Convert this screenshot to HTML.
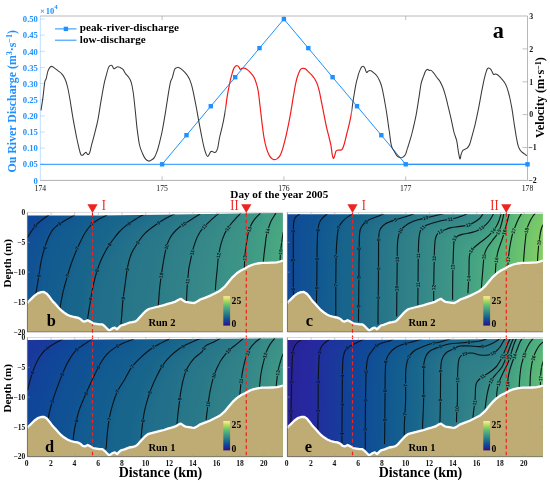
<!DOCTYPE html>
<html><head><meta charset="utf-8"><title>Figure</title>
<style>html,body{margin:0;padding:0;background:#fff}svg{display:block}</style></head>
<body>
<svg width="550" height="483" viewBox="0 0 550 483" font-family="'Liberation Serif', 'DejaVu Serif', serif">
<rect width="550" height="483" fill="#fff"/>
<defs><filter id="bl" x="-10%" y="-20%" width="120%" height="140%" color-interpolation-filters="sRGB"><feGaussianBlur stdDeviation="7"/></filter><linearGradient id="cb" x1="0" y1="1" x2="0" y2="0"><stop offset="0%" stop-color="#29186b"/><stop offset="4%" stop-color="#291d82"/><stop offset="8%" stop-color="#2a229a"/><stop offset="12%" stop-color="#212f9e"/><stop offset="16%" stop-color="#153e9b"/><stop offset="20%" stop-color="#104c97"/><stop offset="24%" stop-color="#115692"/><stop offset="28%" stop-color="#14618e"/><stop offset="32%" stop-color="#1c6a8b"/><stop offset="36%" stop-color="#257389"/><stop offset="40%" stop-color="#2c7c89"/><stop offset="44%" stop-color="#338588"/><stop offset="48%" stop-color="#388e87"/><stop offset="52%" stop-color="#3e9786"/><stop offset="56%" stop-color="#44a084"/><stop offset="60%" stop-color="#4baa80"/><stop offset="64%" stop-color="#52b37b"/><stop offset="68%" stop-color="#5fbc74"/><stop offset="72%" stop-color="#6dc46c"/><stop offset="76%" stop-color="#81cc65"/><stop offset="80%" stop-color="#96d35e"/><stop offset="84%" stop-color="#acd960"/><stop offset="88%" stop-color="#c3dd69"/><stop offset="92%" stop-color="#d9e375"/><stop offset="96%" stop-color="#ebe887"/><stop offset="100%" stop-color="#fdee99"/></linearGradient><clipPath id="ck"><rect x="0" y="0" width="225.1" height="200"/><rect x="351.6" y="0" width="300" height="200"/></clipPath><clipPath id="cr"><rect x="225.1" y="0" width="126.5" height="200"/></clipPath><clipPath id="cpb"><path d="M27.4 331.9L27.4 215.4L100 215.5L160 214.8L240 213.6L282.9 212.9L282.9 331.9Z"/></clipPath><clipPath id="cpc"><path d="M287.4 331.9L287.4 214.2L460 214.2L542.9 213.7L542.9 331.9Z"/></clipPath><clipPath id="cpd"><path d="M27.4 456.7L27.4 340L150 339.3L282.9 338.2L282.9 456.7Z"/></clipPath><clipPath id="cpe"><path d="M287.4 456.7L287.4 340L420 339.8L542.9 338.7L542.9 456.7Z"/></clipPath></defs>
<path d="M40.3 16H527.5V180.4" fill="none" stroke="#a6a6a6" stroke-width="0.8"/>
<path d="M40.3 180.4H527.5" fill="none" stroke="#9c9c9c" stroke-width="0.8"/>
<path d="M40.3 16V180.4" fill="none" stroke="#1e90ff" stroke-width="0.8" stroke-opacity="0.36"/>
<path d="M162.1 180.4v-4M162.1 16v4M283.9 180.4v-4M283.9 16v4M405.7 180.4v-4M405.7 16v4M527.5 147.5h-5M527.5 114.6h-5M527.5 81.8h-5M527.5 48.9h-5" stroke="#a6a6a6" stroke-width="0.7" fill="none"/>
<path d="M40.3 164.3h4.5M40.3 148.1h4.5M40.3 132h4.5M40.3 115.9h4.5M40.3 99.8h4.5M40.3 83.6h4.5M40.3 67.5h4.5M40.3 51.4h4.5M40.3 35.2h4.5M40.3 19.1h4.5" stroke="#1e90ff" stroke-width="0.7" stroke-opacity="0.36" fill="none"/>
<text x="37.9" y="183.5" font-size="8.6" font-weight="bold" fill="#1e90ff" text-anchor="end">0</text>
<text x="37.9" y="167.4" font-size="8.6" font-weight="bold" fill="#1e90ff" text-anchor="end">0.05</text>
<text x="37.9" y="151.2" font-size="8.6" font-weight="bold" fill="#1e90ff" text-anchor="end">0.10</text>
<text x="37.9" y="135.1" font-size="8.6" font-weight="bold" fill="#1e90ff" text-anchor="end">0.15</text>
<text x="37.9" y="119" font-size="8.6" font-weight="bold" fill="#1e90ff" text-anchor="end">0.20</text>
<text x="37.9" y="102.8" font-size="8.6" font-weight="bold" fill="#1e90ff" text-anchor="end">0.25</text>
<text x="37.9" y="86.7" font-size="8.6" font-weight="bold" fill="#1e90ff" text-anchor="end">0.30</text>
<text x="37.9" y="70.6" font-size="8.6" font-weight="bold" fill="#1e90ff" text-anchor="end">0.35</text>
<text x="37.9" y="54.5" font-size="8.6" font-weight="bold" fill="#1e90ff" text-anchor="end">0.40</text>
<text x="37.9" y="38.3" font-size="8.6" font-weight="bold" fill="#1e90ff" text-anchor="end">0.45</text>
<text x="37.9" y="22.2" font-size="8.6" font-weight="bold" fill="#1e90ff" text-anchor="end">0.50</text>
<text x="40.1" y="13.6" font-size="8.5" font-weight="bold" fill="#1e90ff">×<tspan dx="0.9">10</tspan><tspan dy="-4.2" font-size="6.8">4</tspan></text>
<text x="529.3" y="18.7" font-size="7.9" font-weight="bold" fill="#111" text-anchor="start">3</text>
<text x="529.3" y="51.6" font-size="7.9" font-weight="bold" fill="#111" text-anchor="start">2</text>
<text x="529.3" y="84.5" font-size="7.9" font-weight="bold" fill="#111" text-anchor="start">1</text>
<text x="529.3" y="117.3" font-size="7.9" font-weight="bold" fill="#111" text-anchor="start">0</text>
<text x="528.2" y="150.2" font-size="7.9" font-weight="bold" fill="#111" text-anchor="start">−1</text>
<text x="528.2" y="183.1" font-size="7.9" font-weight="bold" fill="#111" text-anchor="start">−2</text>
<text x="40.3" y="190.9" font-size="7.7" fill="#111" text-anchor="middle">174</text>
<text x="162.1" y="190.9" font-size="7.7" fill="#111" text-anchor="middle">175</text>
<text x="283.9" y="190.9" font-size="7.7" fill="#111" text-anchor="middle">176</text>
<text x="405.7" y="190.9" font-size="7.7" fill="#111" text-anchor="middle">177</text>
<text x="527.5" y="190.9" font-size="7.7" fill="#111" text-anchor="middle">178</text>
<text x="279.3" y="198.2" font-size="11.2" font-weight="bold" fill="#000" text-anchor="middle">Day of the year 2005</text>
<text transform="translate(15.6 101.3) rotate(-90)" font-size="11.85" font-weight="bold" fill="#1e90ff" text-anchor="middle">Ou River Discharge (m<tspan dy="-3.4" font-size="8">3</tspan><tspan dy="3.4">·s</tspan><tspan dy="-3.4" font-size="8">−1</tspan><tspan dy="3.4">)</tspan></text>
<text transform="translate(544.4 97.5) rotate(-90)" font-size="12.3" font-weight="bold" fill="#000" text-anchor="middle">Velocity (m·s<tspan dy="-3.4" font-size="8">−1</tspan><tspan dy="3.4">)</tspan></text>
<text x="498.3" y="38.3" font-size="22.3" font-weight="bold" fill="#000" text-anchor="middle">a</text>
<path d="M40.3 164.3H527.5" stroke="#1e90ff" stroke-width="1" fill="none"/>
<path d="M162.1 164.3L186.5 135.2L210.8 106.2L235.2 77.2L259.5 48.1L283.9 19.1L308.3 48.1L332.6 77.2L357 106.2L381.3 135.2L405.7 164.3L527.5 164.3" stroke="#1e90ff" stroke-width="1" fill="none"/>
<rect x="159.9" y="162.1" width="4.4" height="4.4" fill="#1e90ff"/>
<rect x="184.3" y="133" width="4.4" height="4.4" fill="#1e90ff"/>
<rect x="208.6" y="104" width="4.4" height="4.4" fill="#1e90ff"/>
<rect x="233" y="75" width="4.4" height="4.4" fill="#1e90ff"/>
<rect x="257.3" y="45.9" width="4.4" height="4.4" fill="#1e90ff"/>
<rect x="281.7" y="16.9" width="4.4" height="4.4" fill="#1e90ff"/>
<rect x="306.1" y="45.9" width="4.4" height="4.4" fill="#1e90ff"/>
<rect x="330.4" y="75" width="4.4" height="4.4" fill="#1e90ff"/>
<rect x="354.8" y="104" width="4.4" height="4.4" fill="#1e90ff"/>
<rect x="379.1" y="133" width="4.4" height="4.4" fill="#1e90ff"/>
<rect x="403.5" y="162.1" width="4.4" height="4.4" fill="#1e90ff"/>
<rect x="525.3" y="162.1" width="4.4" height="4.4" fill="#1e90ff"/>
<path d="M55 28.9H76.5M55 40.2H76.5" stroke="#1e90ff" stroke-width="1" fill="none"/>
<rect x="63.7" y="26.7" width="4.4" height="4.4" fill="#1e90ff"/>
<text x="79.8" y="30.7" font-size="11.15" font-weight="bold" fill="#000">peak-river-discharge</text>
<text x="79.8" y="42.9" font-size="11.1" font-weight="bold" fill="#000">low-discharge</text>
<path d="M41 110.4C41.3 108.2 42.3 101.9 43 97.2C43.6 92.5 44.2 85.4 44.7 82.3C45.2 79.2 45.7 80.5 46.2 78.6C46.7 76.7 47.3 73 47.9 71.1C48.6 69.3 49.2 68.2 49.9 67.4C50.6 66.6 51.5 66.3 52.2 66.4C52.9 66.5 53.2 67.2 54.2 67.9C55.1 68.6 56.6 69.7 57.9 70.6C59.1 71.6 60.5 72.3 61.6 73.6C62.8 74.9 63.9 76.5 64.8 78.6C65.8 80.7 66.5 82.7 67.3 86C68.2 89.4 68.9 93.3 69.8 98.5C70.7 103.6 71.7 110.7 72.8 117.1C73.9 123.5 75.5 131.8 76.5 137C77.6 142.2 78.3 145.3 79 148.2C79.7 151.1 80.1 153.2 80.8 154.4C81.4 155.6 82.1 155.4 82.7 155.2C83.4 154.9 84.2 153.6 84.7 153.2C85.3 152.7 85.7 152.2 86.2 152.4C86.7 152.6 87.2 154.3 87.7 154.4C88.2 154.5 88.8 154.6 89.5 153.2C90.1 151.7 90.6 149 91.4 145.7C92.3 142.4 93.6 137.4 94.7 133.3C95.7 129.1 96.7 125.8 97.7 120.8C98.7 115.9 99.6 109.4 100.6 103.4C101.7 97.4 102.9 89.6 103.9 84.8C104.8 80 105.6 77.8 106.4 74.9C107.1 72 107.9 69 108.6 67.4C109.3 65.8 110 65.7 110.6 65.4C111.2 65.1 111.5 65.1 112.1 65.7C112.6 66.2 113.2 68.3 113.8 68.6C114.4 69 114.9 68.2 115.5 67.9C116.2 67.6 116.8 66.7 117.5 66.7C118.3 66.6 119.1 66.9 120 67.4C120.9 67.9 122.1 68.4 123 69.4C123.9 70.4 124.5 72.3 125.5 73.6C126.5 74.9 127.8 75.9 128.7 77.3C129.7 78.8 130.5 79.8 131.2 82.3C132 84.8 132.6 88.1 133.2 92.3C133.8 96.4 134.3 101.4 134.9 107.2C135.6 113 136.2 120.8 136.9 127.1C137.7 133.3 138.5 140.1 139.4 144.5C140.3 148.8 141.4 150.8 142.4 153.2C143.4 155.6 144.3 157.5 145.4 158.9C146.4 160.2 147.7 160.9 148.6 161.1C149.6 161.3 150.1 160.7 151.1 160.1C152.1 159.5 153.3 159.2 154.3 157.6C155.4 156.1 156.4 153.5 157.3 150.7C158.3 147.9 159.1 144.3 160 140.7C160.9 137.2 161.6 134.3 162.5 129.5C163.4 124.8 164.5 117.9 165.5 112.1C166.4 106.3 167.4 99.7 168.2 94.7C169 89.8 169.7 85.2 170.4 82.3C171.1 79.4 171.8 79.4 172.4 77.3C173.1 75.3 173.8 71.5 174.4 69.9C175.1 68.3 175.7 68.3 176.4 67.9C177.1 67.5 177.9 67.2 178.6 67.4C179.4 67.6 180.1 68.1 181.1 68.9C182.2 69.7 183.7 71.2 184.9 72.4C186 73.6 186.9 74.6 187.8 76.1C188.8 77.5 189.5 78.8 190.3 81.1C191.2 83.3 192 86.2 192.8 89.8C193.6 93.3 194.3 97.2 195.3 102.2C196.3 107.2 197.5 113.8 198.5 119.6C199.6 125.4 200.8 132.2 201.8 137C202.7 141.8 203.5 145.3 204.2 148.2C205 151.1 205.6 153 206.2 154.4C206.8 155.8 207.2 156.4 207.7 156.4C208.2 156.4 208.8 155.1 209.2 154.4C209.7 153.7 210 152.4 210.5 151.9C211 151.4 211.6 151.3 212.2 151.4C212.8 151.5 213.6 152.3 214.2 152.4C214.8 152.5 215.4 152.6 215.9 151.9C216.5 151.2 217 150.7 217.7 148.2C218.3 145.7 218.9 140.5 219.7 137C220.4 133.5 221.3 130.8 222.1 127.1C223 123.3 223.8 119.6 224.6 114.6C225.5 109.7 226.3 102.4 227.1 97.2C227.9 92.1 228.8 87.5 229.6 83.6C230.4 79.6 231.3 76.2 232.1 73.6C232.8 71 233.4 69.2 234.1 67.9C234.7 66.6 235.2 66.3 235.8 65.9C236.4 65.5 237 65.4 237.6 65.7C238.1 65.9 238.6 66.8 239.1 67.4C239.5 68 239.8 69.2 240.3 69.4C240.8 69.6 241.3 68.6 242 68.4C242.7 68.2 243.6 67.9 244.5 68.2C245.4 68.4 246.5 69.1 247.5 69.9C248.5 70.7 249.7 71.6 250.7 72.9C251.8 74.1 253 75.6 254 77.3C254.9 79.1 255.7 81.3 256.4 83.6C257.2 85.8 257.6 87.5 258.2 91C258.8 94.5 259.3 99.5 259.9 104.7C260.6 109.9 261.2 116.7 261.9 122.1C262.6 127.5 263.2 132.7 263.9 137C264.6 141.3 265.5 145.1 266.4 148.2C267.3 151.3 268.4 153.9 269.4 155.6C270.4 157.4 271.4 158.2 272.4 158.9C273.3 159.5 274 159.7 274.8 159.6C275.7 159.6 276.5 159.3 277.3 158.6C278.2 158 279.1 157.2 280 155.6C280.9 154.1 281.6 152.3 282.5 149.4C283.4 146.5 284.4 142.6 285.5 138.2C286.5 133.9 287.7 128.1 288.7 123.3C289.7 118.6 290.4 114.4 291.2 109.7C292 104.9 292.8 99.5 293.7 94.7C294.5 90 295.3 84.6 296.2 81.1C297 77.5 297.9 75.6 298.6 73.6C299.4 71.7 299.9 70.3 300.6 69.4C301.3 68.5 302.2 68.5 302.9 68.4C303.6 68.3 304.1 68.3 304.9 68.6C305.6 69 306.4 69.8 307.3 70.6C308.3 71.5 309.3 72.5 310.3 73.6C311.4 74.7 312.5 75.9 313.6 77.3C314.6 78.8 315.6 80.2 316.5 82.3C317.5 84.4 318.3 86.9 319 89.8C319.8 92.7 320.3 96 321 99.7C321.8 103.4 322.6 107.6 323.5 112.1C324.4 116.7 325.6 122.9 326.5 127.1C327.4 131.2 328.2 133.9 329 137C329.7 140.1 330.4 142.8 331 145.7C331.5 148.6 331.8 152.3 332.2 154.4C332.6 156.5 333 158.2 333.4 158.4C333.9 158.6 334.3 156.8 334.7 155.6C335.1 154.5 335.4 152.3 335.9 151.4C336.4 150.5 337 150.4 337.7 150.2C338.3 150 338.9 150.3 339.7 150.2C340.4 150 341.4 150.4 342.1 149.4C342.9 148.5 343.4 146.9 344.1 144.5C344.9 142 345.8 137.8 346.6 134.5C347.4 131.2 348.4 127.8 349.1 124.6C349.8 121.3 350.4 119.3 351.1 115.1C351.8 111 352.5 104.8 353.3 99.7C354.1 94.7 355 88.9 355.8 84.8C356.6 80.7 357.6 77.4 358.3 74.9C359 72.3 359.7 70.8 360.3 69.4C360.9 68 361.5 67.1 362 66.7C362.6 66.2 363 66.1 363.5 66.4C364 66.7 364.5 67.6 365 68.6C365.5 69.6 366 72 366.5 72.4C367 72.8 367.6 71.4 368.2 71.1C368.9 70.8 369.4 70.4 370.2 70.6C371.1 70.8 372.2 71.6 373.2 72.4C374.2 73.2 375.4 74 376.4 75.3C377.5 76.7 378.5 78.3 379.4 80.3C380.3 82.3 381.1 84.1 381.9 87.3C382.7 90.5 383.6 95.2 384.4 99.7C385.2 104.3 386.1 109.2 386.9 114.6C387.7 120 388.6 126.9 389.4 132C390.1 137.2 390.6 142.6 391.4 145.7C392.1 148.8 392.9 149 393.9 150.7C394.8 152.3 395.8 154.5 396.8 155.6C397.8 156.8 398.9 157.3 399.8 157.6C400.8 157.9 401.5 157.9 402.5 157.4C403.4 156.8 404.6 155.9 405.5 154.4C406.3 152.9 406.7 150.5 407.5 148.2C408.2 145.9 409 143.8 409.9 140.7C410.9 137.6 411.9 133.9 412.9 129.5C414 125.2 415.2 119.6 416.2 114.6C417.1 109.7 417.8 104.9 418.6 99.7C419.5 94.5 420.3 87.5 421.1 83.6C422 79.6 422.9 78.2 423.6 76.1C424.4 74 425 72.2 425.6 71.1C426.2 70 426.7 69.5 427.3 69.4C428 69.3 428.7 70.2 429.3 70.4C430 70.5 430.4 70 431.1 70.4C431.8 70.8 432.6 71.7 433.6 72.9C434.5 74 435.8 76 436.8 77.3C437.8 78.7 438.8 79.4 439.8 81.1C440.8 82.7 441.8 85 442.8 87.3C443.7 89.6 444.4 91.8 445.2 94.7C446.1 97.6 446.8 100.8 447.7 104.7C448.7 108.6 449.9 113.8 451 118.4C452 122.9 453 128.3 453.9 132C454.9 135.8 455.9 137.4 456.7 140.7C457.4 144 457.9 148.9 458.4 151.9C459 154.9 459.5 158.5 459.9 158.9C460.4 159.3 460.7 155.8 461.1 154.4C461.6 153 462.1 151.5 462.6 150.7C463.2 149.8 463.9 149.8 464.6 149.4C465.4 149 466.3 149 467.1 148.2C467.9 147.4 468.8 146.5 469.6 144.5C470.4 142.4 471.2 139.1 472.1 135.8C473 132.4 474 128.9 475.1 124.6C476.1 120.2 477.2 115 478.3 109.7C479.4 104.3 480.6 97.2 481.5 92.3C482.5 87.3 483.3 83.1 484 79.8C484.8 76.5 485.4 74.2 486 72.4C486.6 70.5 486.9 69.3 487.5 68.6C488.1 67.9 488.8 67.9 489.5 68.2C490.2 68.4 490.8 69.3 491.5 70.4C492.1 71.4 492.8 73.7 493.5 74.4C494.2 75 494.9 73.9 495.7 74.1C496.5 74.3 497.2 74.6 498.2 75.3C499.1 76.1 500.4 77.4 501.4 78.6C502.5 79.8 503.5 80.9 504.4 82.3C505.3 83.8 506.1 85 506.9 87.3C507.7 89.6 508.5 92.5 509.4 96C510.2 99.5 511 103.6 511.9 108.4C512.7 113.2 513.6 119.8 514.3 124.6C515.1 129.3 515.7 133.5 516.3 137C517 140.5 517.4 143.4 518.1 145.7C518.8 148 519.5 149.3 520.6 150.7C521.6 152 523.3 153.1 524.3 153.9C525.3 154.7 526.4 155.3 526.8 155.6" fill="none" stroke="#383838" stroke-width="1.05" stroke-linejoin="round" clip-path="url(#ck)"/>
<path d="M41 110.4C41.3 108.2 42.3 101.9 43 97.2C43.6 92.5 44.2 85.4 44.7 82.3C45.2 79.2 45.7 80.5 46.2 78.6C46.7 76.7 47.3 73 47.9 71.1C48.6 69.3 49.2 68.2 49.9 67.4C50.6 66.6 51.5 66.3 52.2 66.4C52.9 66.5 53.2 67.2 54.2 67.9C55.1 68.6 56.6 69.7 57.9 70.6C59.1 71.6 60.5 72.3 61.6 73.6C62.8 74.9 63.9 76.5 64.8 78.6C65.8 80.7 66.5 82.7 67.3 86C68.2 89.4 68.9 93.3 69.8 98.5C70.7 103.6 71.7 110.7 72.8 117.1C73.9 123.5 75.5 131.8 76.5 137C77.6 142.2 78.3 145.3 79 148.2C79.7 151.1 80.1 153.2 80.8 154.4C81.4 155.6 82.1 155.4 82.7 155.2C83.4 154.9 84.2 153.6 84.7 153.2C85.3 152.7 85.7 152.2 86.2 152.4C86.7 152.6 87.2 154.3 87.7 154.4C88.2 154.5 88.8 154.6 89.5 153.2C90.1 151.7 90.6 149 91.4 145.7C92.3 142.4 93.6 137.4 94.7 133.3C95.7 129.1 96.7 125.8 97.7 120.8C98.7 115.9 99.6 109.4 100.6 103.4C101.7 97.4 102.9 89.6 103.9 84.8C104.8 80 105.6 77.8 106.4 74.9C107.1 72 107.9 69 108.6 67.4C109.3 65.8 110 65.7 110.6 65.4C111.2 65.1 111.5 65.1 112.1 65.7C112.6 66.2 113.2 68.3 113.8 68.6C114.4 69 114.9 68.2 115.5 67.9C116.2 67.6 116.8 66.7 117.5 66.7C118.3 66.6 119.1 66.9 120 67.4C120.9 67.9 122.1 68.4 123 69.4C123.9 70.4 124.5 72.3 125.5 73.6C126.5 74.9 127.8 75.9 128.7 77.3C129.7 78.8 130.5 79.8 131.2 82.3C132 84.8 132.6 88.1 133.2 92.3C133.8 96.4 134.3 101.4 134.9 107.2C135.6 113 136.2 120.8 136.9 127.1C137.7 133.3 138.5 140.1 139.4 144.5C140.3 148.8 141.4 150.8 142.4 153.2C143.4 155.6 144.3 157.5 145.4 158.9C146.4 160.2 147.7 160.9 148.6 161.1C149.6 161.3 150.1 160.7 151.1 160.1C152.1 159.5 153.3 159.2 154.3 157.6C155.4 156.1 156.4 153.5 157.3 150.7C158.3 147.9 159.1 144.3 160 140.7C160.9 137.2 161.6 134.3 162.5 129.5C163.4 124.8 164.5 117.9 165.5 112.1C166.4 106.3 167.4 99.7 168.2 94.7C169 89.8 169.7 85.2 170.4 82.3C171.1 79.4 171.8 79.4 172.4 77.3C173.1 75.3 173.8 71.5 174.4 69.9C175.1 68.3 175.7 68.3 176.4 67.9C177.1 67.5 177.9 67.2 178.6 67.4C179.4 67.6 180.1 68.1 181.1 68.9C182.2 69.7 183.7 71.2 184.9 72.4C186 73.6 186.9 74.6 187.8 76.1C188.8 77.5 189.5 78.8 190.3 81.1C191.2 83.3 192 86.2 192.8 89.8C193.6 93.3 194.3 97.2 195.3 102.2C196.3 107.2 197.5 113.8 198.5 119.6C199.6 125.4 200.8 132.2 201.8 137C202.7 141.8 203.5 145.3 204.2 148.2C205 151.1 205.6 153 206.2 154.4C206.8 155.8 207.2 156.4 207.7 156.4C208.2 156.4 208.8 155.1 209.2 154.4C209.7 153.7 210 152.4 210.5 151.9C211 151.4 211.6 151.3 212.2 151.4C212.8 151.5 213.6 152.3 214.2 152.4C214.8 152.5 215.4 152.6 215.9 151.9C216.5 151.2 217 150.7 217.7 148.2C218.3 145.7 218.9 140.5 219.7 137C220.4 133.5 221.3 130.8 222.1 127.1C223 123.3 223.8 119.6 224.6 114.6C225.5 109.7 226.3 102.4 227.1 97.2C227.9 92.1 228.8 87.5 229.6 83.6C230.4 79.6 231.3 76.2 232.1 73.6C232.8 71 233.4 69.2 234.1 67.9C234.7 66.6 235.2 66.3 235.8 65.9C236.4 65.5 237 65.4 237.6 65.7C238.1 65.9 238.6 66.8 239.1 67.4C239.5 68 239.8 69.2 240.3 69.4C240.8 69.6 241.3 68.6 242 68.4C242.7 68.2 243.6 67.9 244.5 68.2C245.4 68.4 246.5 69.1 247.5 69.9C248.5 70.7 249.7 71.6 250.7 72.9C251.8 74.1 253 75.6 254 77.3C254.9 79.1 255.7 81.3 256.4 83.6C257.2 85.8 257.6 87.5 258.2 91C258.8 94.5 259.3 99.5 259.9 104.7C260.6 109.9 261.2 116.7 261.9 122.1C262.6 127.5 263.2 132.7 263.9 137C264.6 141.3 265.5 145.1 266.4 148.2C267.3 151.3 268.4 153.9 269.4 155.6C270.4 157.4 271.4 158.2 272.4 158.9C273.3 159.5 274 159.7 274.8 159.6C275.7 159.6 276.5 159.3 277.3 158.6C278.2 158 279.1 157.2 280 155.6C280.9 154.1 281.6 152.3 282.5 149.4C283.4 146.5 284.4 142.6 285.5 138.2C286.5 133.9 287.7 128.1 288.7 123.3C289.7 118.6 290.4 114.4 291.2 109.7C292 104.9 292.8 99.5 293.7 94.7C294.5 90 295.3 84.6 296.2 81.1C297 77.5 297.9 75.6 298.6 73.6C299.4 71.7 299.9 70.3 300.6 69.4C301.3 68.5 302.2 68.5 302.9 68.4C303.6 68.3 304.1 68.3 304.9 68.6C305.6 69 306.4 69.8 307.3 70.6C308.3 71.5 309.3 72.5 310.3 73.6C311.4 74.7 312.5 75.9 313.6 77.3C314.6 78.8 315.6 80.2 316.5 82.3C317.5 84.4 318.3 86.9 319 89.8C319.8 92.7 320.3 96 321 99.7C321.8 103.4 322.6 107.6 323.5 112.1C324.4 116.7 325.6 122.9 326.5 127.1C327.4 131.2 328.2 133.9 329 137C329.7 140.1 330.4 142.8 331 145.7C331.5 148.6 331.8 152.3 332.2 154.4C332.6 156.5 333 158.2 333.4 158.4C333.9 158.6 334.3 156.8 334.7 155.6C335.1 154.5 335.4 152.3 335.9 151.4C336.4 150.5 337 150.4 337.7 150.2C338.3 150 338.9 150.3 339.7 150.2C340.4 150 341.4 150.4 342.1 149.4C342.9 148.5 343.4 146.9 344.1 144.5C344.9 142 345.8 137.8 346.6 134.5C347.4 131.2 348.4 127.8 349.1 124.6C349.8 121.3 350.4 119.3 351.1 115.1C351.8 111 352.5 104.8 353.3 99.7C354.1 94.7 355 88.9 355.8 84.8C356.6 80.7 357.6 77.4 358.3 74.9C359 72.3 359.7 70.8 360.3 69.4C360.9 68 361.5 67.1 362 66.7C362.6 66.2 363 66.1 363.5 66.4C364 66.7 364.5 67.6 365 68.6C365.5 69.6 366 72 366.5 72.4C367 72.8 367.6 71.4 368.2 71.1C368.9 70.8 369.4 70.4 370.2 70.6C371.1 70.8 372.2 71.6 373.2 72.4C374.2 73.2 375.4 74 376.4 75.3C377.5 76.7 378.5 78.3 379.4 80.3C380.3 82.3 381.1 84.1 381.9 87.3C382.7 90.5 383.6 95.2 384.4 99.7C385.2 104.3 386.1 109.2 386.9 114.6C387.7 120 388.6 126.9 389.4 132C390.1 137.2 390.6 142.6 391.4 145.7C392.1 148.8 392.9 149 393.9 150.7C394.8 152.3 395.8 154.5 396.8 155.6C397.8 156.8 398.9 157.3 399.8 157.6C400.8 157.9 401.5 157.9 402.5 157.4C403.4 156.8 404.6 155.9 405.5 154.4C406.3 152.9 406.7 150.5 407.5 148.2C408.2 145.9 409 143.8 409.9 140.7C410.9 137.6 411.9 133.9 412.9 129.5C414 125.2 415.2 119.6 416.2 114.6C417.1 109.7 417.8 104.9 418.6 99.7C419.5 94.5 420.3 87.5 421.1 83.6C422 79.6 422.9 78.2 423.6 76.1C424.4 74 425 72.2 425.6 71.1C426.2 70 426.7 69.5 427.3 69.4C428 69.3 428.7 70.2 429.3 70.4C430 70.5 430.4 70 431.1 70.4C431.8 70.8 432.6 71.7 433.6 72.9C434.5 74 435.8 76 436.8 77.3C437.8 78.7 438.8 79.4 439.8 81.1C440.8 82.7 441.8 85 442.8 87.3C443.7 89.6 444.4 91.8 445.2 94.7C446.1 97.6 446.8 100.8 447.7 104.7C448.7 108.6 449.9 113.8 451 118.4C452 122.9 453 128.3 453.9 132C454.9 135.8 455.9 137.4 456.7 140.7C457.4 144 457.9 148.9 458.4 151.9C459 154.9 459.5 158.5 459.9 158.9C460.4 159.3 460.7 155.8 461.1 154.4C461.6 153 462.1 151.5 462.6 150.7C463.2 149.8 463.9 149.8 464.6 149.4C465.4 149 466.3 149 467.1 148.2C467.9 147.4 468.8 146.5 469.6 144.5C470.4 142.4 471.2 139.1 472.1 135.8C473 132.4 474 128.9 475.1 124.6C476.1 120.2 477.2 115 478.3 109.7C479.4 104.3 480.6 97.2 481.5 92.3C482.5 87.3 483.3 83.1 484 79.8C484.8 76.5 485.4 74.2 486 72.4C486.6 70.5 486.9 69.3 487.5 68.6C488.1 67.9 488.8 67.9 489.5 68.2C490.2 68.4 490.8 69.3 491.5 70.4C492.1 71.4 492.8 73.7 493.5 74.4C494.2 75 494.9 73.9 495.7 74.1C496.5 74.3 497.2 74.6 498.2 75.3C499.1 76.1 500.4 77.4 501.4 78.6C502.5 79.8 503.5 80.9 504.4 82.3C505.3 83.8 506.1 85 506.9 87.3C507.7 89.6 508.5 92.5 509.4 96C510.2 99.5 511 103.6 511.9 108.4C512.7 113.2 513.6 119.8 514.3 124.6C515.1 129.3 515.7 133.5 516.3 137C517 140.5 517.4 143.4 518.1 145.7C518.8 148 519.5 149.3 520.6 150.7C521.6 152 523.3 153.1 524.3 153.9C525.3 154.7 526.4 155.3 526.8 155.6" fill="none" stroke="#f21d1d" stroke-width="1.2" stroke-linejoin="round" clip-path="url(#cr)"/>
<g clip-path="url(#cpb)">
<g filter="url(#bl)">
<rect x="-12.6" y="172.4" width="335.5" height="199.5" fill="#104699"/>
<path d="M60.9 172.4L51.2 213.6C50.1 214.3 47.1 216 44.7 217.8C42.3 219.5 39.1 222.1 36.9 224.2C34.8 226.4 33.3 228.5 31.8 230.7C30.2 232.9 28.3 236.5 27.6 237.7L-12.6 257.7L-12.6 371.9L322.9 371.9L322.9 172.4Z" fill="#105194"/>
<path d="M94.5 172.4L77 213.6C75.1 214.7 68.9 218.3 65.4 220.3C62 222.4 58.7 224.1 56.4 226.1C54 228 52.9 229.1 51.2 232C49.4 234.9 47.6 239.1 46 243.6C44.4 248.2 42.8 254 41.6 259.2C40.4 264.3 39.8 270 39 274.7C38.2 279.4 37.5 284.3 36.9 287.6C36.4 291 35.9 293.7 35.6 294.9L33.6 371.9L322.9 371.9L322.9 172.4Z" fill="#125c90"/>
<path d="M124.9 172.4L109.4 213.6C107.7 214.5 102 217.3 99 219.1C96.1 220.8 94.2 221.9 91.8 224.2C89.4 226.6 87.1 229.6 84.8 233.3C82.6 237 80.5 241.5 78.3 246.2C76.2 251 73.8 256.4 71.9 261.8C69.9 267.2 68.2 273.4 66.7 278.6C65.2 283.8 64 287.6 62.8 292.8C61.7 298 60.2 306.8 59.7 309.6L57.7 371.9L322.9 371.9L322.9 172.4Z" fill="#18658c"/>
<path d="M161.8 172.4L146.2 213.1C144.5 214.1 139.3 216.9 135.9 219.1C132.4 221.2 128.3 223.9 125.5 226.1C122.7 228.2 121 229.9 119.1 232C117.1 234.1 115.9 235.7 113.9 238.5C111.8 241.3 109.1 244.9 106.8 248.8C104.6 252.7 102.3 257 100.3 261.8C98.4 266.5 96.6 272.1 95.2 277.3C93.7 282.5 92.8 287.6 91.8 292.8C90.8 298 90 303.8 89.2 308.3C88.5 312.9 87.7 318 87.4 320L85.4 371.9L322.9 371.9L322.9 172.4Z" fill="#216f8a"/>
<path d="M189.6 172.4L176 213.1C174.5 213.9 170.2 215.9 166.9 217.8C163.7 219.6 160.2 221.6 156.6 224.2C152.9 226.8 148.2 230.1 144.9 233.3C141.7 236.5 139.5 240.2 137.2 243.6C134.9 247.1 132.8 250.1 131.2 254C129.6 257.9 128.6 261.8 127.6 266.9C126.6 272.1 125.8 279.4 125 285.1C124.2 290.7 123.5 295.4 122.9 300.6C122.4 305.8 122 312 121.7 316.1C121.3 320.2 121 323.7 120.9 325.2L118.9 371.9L322.9 371.9L322.9 172.4Z" fill="#297889"/>
<path d="M216.1 172.4L200.6 213.6C198.9 214.7 193.7 218.2 190.2 220.3C186.8 222.5 182.9 224.4 179.9 226.8C176.9 229.2 174.2 231.8 172.1 234.6C170 237.4 168.7 240 167.4 243.6C166.2 247.3 165.3 251.8 164.3 256.6C163.4 261.3 162.5 266.9 161.8 272.1C161 277.3 160.2 282.9 159.7 287.6C159.2 292.4 158.9 297.3 158.7 300.6C158.4 303.8 158.2 306 158.1 307.1L156.1 371.9L322.9 371.9L322.9 172.4Z" fill="#2f8088"/>
<path d="M231.4 172.4L219 213.1C217.6 214.3 213.4 217.8 210.7 220.3C208 222.9 205.1 225.5 202.9 228.1C200.8 230.7 199.3 232.9 197.8 235.9C196.2 238.9 195 242.8 193.9 246.2C192.8 249.7 192.1 252.9 191.3 256.6C190.5 260.2 189.5 265.2 188.9 268.2C188.4 271.2 188.5 271.5 188.2 274.7C187.9 277.9 187.4 283.8 187.1 287.6C186.9 291.5 186.7 295.7 186.6 298C186.5 300.2 186.4 300.6 186.3 301.1L184.3 371.9L322.9 371.9L322.9 172.4Z" fill="#368988"/>
<path d="M251.4 172.4L241 213.1C239.8 214.3 236 218.1 234 220.3C232 222.6 230.3 224.7 228.8 226.8C227.3 229 226.2 230.5 224.9 233.3C223.6 236.1 222.1 239.8 221.1 243.6C220 247.5 219.1 252.3 218.5 256.6C217.8 260.9 217.6 265.2 217.2 269.5C216.7 273.8 216.2 279 215.9 282.5C215.6 285.9 215.4 288.9 215.4 290.2L213.4 371.9L322.9 371.9L322.9 172.4Z" fill="#3b9286"/>
<path d="M268.9 172.4L260.4 213.1C259.4 214.1 256.3 217 254.7 219.1C253.1 221.1 251.9 223.2 250.8 225.5C249.7 227.9 249 230.3 248.2 233.3C247.5 236.3 246.9 240.2 246.4 243.6C245.9 247.1 245.4 251 245.1 254C244.8 257 244.7 259.4 244.6 261.8C244.5 264.1 244.4 267.2 244.3 268.2L242.3 371.9L322.9 371.9L322.9 172.4Z" fill="#409c85"/>
<path d="M282.5 172.4L275.9 213.1C275.2 214.3 272.7 218.1 271.5 220.3C270.4 222.6 269.8 224.2 268.9 226.8C268.1 229.4 267 232.6 266.4 235.9C265.7 239.1 265.5 242.8 265.1 246.2C264.6 249.7 264.1 253.8 263.8 256.6C263.5 259.4 263.3 262 263.2 263.1L261.2 371.9L322.9 371.9L322.9 172.4Z" fill="#47a582"/>
<path d="M322.9 226L283.2 232C283 233.5 282.3 237.8 281.9 241.1C281.4 244.3 280.9 248.2 280.6 251.4C280.3 254.6 280.1 259 280.1 260.5L278.1 371.9L322.9 371.9Z" fill="#4eae7e"/>
</g>
<g fill="none" stroke="#0a1418" stroke-width="1.12" stroke-linejoin="round">
<path d="M51.2 213.6C50.1 214.3 47.1 216 44.7 217.8C42.3 219.5 39.1 222.1 36.9 224.2C34.8 226.4 33.3 228.5 31.8 230.7C30.2 232.9 28.3 236.5 27.6 237.7" stroke-dasharray="18.3 3.4 62.5"/>
<path d="M77 213.6C75.1 214.7 68.9 218.3 65.4 220.3C62 222.4 58.7 224.1 56.4 226.1C54 228 52.9 229.1 51.2 232C49.4 234.9 47.6 239.1 46 243.6C44.4 248.2 42.8 254 41.6 259.2C40.4 264.3 39.8 270 39 274.7C38.2 279.4 37.5 284.3 36.9 287.6C36.4 291 35.9 293.7 35.6 294.9" stroke-dasharray="18.3 3.4 25.6 3.4 25.6 3.4 67.5"/>
<path d="M109.4 213.6C107.7 214.5 102 217.3 99 219.1C96.1 220.8 94.2 221.9 91.8 224.2C89.4 226.6 87.1 229.6 84.8 233.3C82.6 237 80.5 241.5 78.3 246.2C76.2 251 73.8 256.4 71.9 261.8C69.9 267.2 68.2 273.4 66.7 278.6C65.2 283.8 64 287.6 62.8 292.8C61.7 298 60.2 306.8 59.7 309.6" stroke-dasharray="18.3 3.4 25.6 3.4 25.6 3.4 83.2"/>
<path d="M146.2 213.1C144.5 214.1 139.3 216.9 135.9 219.1C132.4 221.2 128.3 223.9 125.5 226.1C122.7 228.2 121 229.9 119.1 232C117.1 234.1 115.9 235.7 113.9 238.5C111.8 241.3 109.1 244.9 106.8 248.8C104.6 252.7 102.3 257 100.3 261.8C98.4 266.5 96.6 272.1 95.2 277.3C93.7 282.5 92.8 287.6 91.8 292.8C90.8 298 90 303.8 89.2 308.3C88.5 312.9 87.7 318 87.4 320" stroke-dasharray="18.3 3.4 25.6 3.4 25.6 3.4 25.6 3.4 69.6"/>
<path d="M176 213.1C174.5 213.9 170.2 215.9 166.9 217.8C163.7 219.6 160.2 221.6 156.6 224.2C152.9 226.8 148.2 230.1 144.9 233.3C141.7 236.5 139.5 240.2 137.2 243.6C134.9 247.1 132.8 250.1 131.2 254C129.6 257.9 128.6 261.8 127.6 266.9C126.6 272.1 125.8 279.4 125 285.1C124.2 290.7 123.5 295.4 122.9 300.6C122.4 305.8 122 312 121.7 316.1C121.3 320.2 121 323.7 120.9 325.2" stroke-dasharray="18.3 3.4 25.6 3.4 25.6 3.4 25.6 3.4 75.5"/>
<path d="M200.6 213.6C198.9 214.7 193.7 218.2 190.2 220.3C186.8 222.5 182.9 224.4 179.9 226.8C176.9 229.2 174.2 231.8 172.1 234.6C170 237.4 168.7 240 167.4 243.6C166.2 247.3 165.3 251.8 164.3 256.6C163.4 261.3 162.5 266.9 161.8 272.1C161 277.3 160.2 282.9 159.7 287.6C159.2 292.4 158.9 297.3 158.7 300.6C158.4 303.8 158.2 306 158.1 307.1" stroke-dasharray="17 6 23 6 23 6 79"/>
<path d="M219 213.1C217.6 214.3 213.4 217.8 210.7 220.3C208 222.9 205.1 225.5 202.9 228.1C200.8 230.7 199.3 232.9 197.8 235.9C196.2 238.9 195 242.8 193.9 246.2C192.8 249.7 192.1 252.9 191.3 256.6C190.5 260.2 189.5 265.2 188.9 268.2C188.4 271.2 188.5 271.5 188.2 274.7C187.9 277.9 187.4 283.8 187.1 287.6C186.9 291.5 186.7 295.7 186.6 298C186.5 300.2 186.4 300.6 186.3 301.1" stroke-dasharray="17 6 23 6 23 6 67"/>
<path d="M241 213.1C239.8 214.3 236 218.1 234 220.3C232 222.6 230.3 224.7 228.8 226.8C227.3 229 226.2 230.5 224.9 233.3C223.6 236.1 222.1 239.8 221.1 243.6C220 247.5 219.1 252.3 218.5 256.6C217.8 260.9 217.6 265.2 217.2 269.5C216.7 273.8 216.2 279 215.9 282.5C215.6 285.9 215.4 288.9 215.4 290.2" stroke-dasharray="17 6 23 6 82"/>
<path d="M260.4 213.1C259.4 214.1 256.3 217 254.7 219.1C253.1 221.1 251.9 223.2 250.8 225.5C249.7 227.9 249 230.3 248.2 233.3C247.5 236.3 246.9 240.2 246.4 243.6C245.9 247.1 245.4 251 245.1 254C244.8 257 244.7 259.4 244.6 261.8C244.5 264.1 244.4 267.2 244.3 268.2" stroke-dasharray="17 6 23 6 57.2"/>
<path d="M275.9 213.1C275.2 214.3 272.7 218.1 271.5 220.3C270.4 222.6 269.8 224.2 268.9 226.8C268.1 229.4 267 232.6 266.4 235.9C265.7 239.1 265.5 242.8 265.1 246.2C264.6 249.7 264.1 253.8 263.8 256.6C263.5 259.4 263.3 262 263.2 263.1" stroke-dasharray="17 6 79.2"/>
<path d="M283.2 232C283 233.5 282.3 237.8 281.9 241.1C281.4 244.3 280.9 248.2 280.6 251.4C280.3 254.6 280.1 259 280.1 260.5" stroke-dasharray="17 6 55.7"/>
</g>
<g font-family="'Liberation Sans', sans-serif" font-size="4.9" font-weight="bold" fill="#0a1418" text-anchor="middle"><text transform="translate(35.4 225.8) rotate(-49.7)" y="1.7">5</text><text transform="translate(59.8 223.7) rotate(-32.2)" y="1.7">6</text><text transform="translate(44.7 247.6) rotate(-73.1)" y="1.7">6</text><text transform="translate(38.8 275.9) rotate(-81)" y="1.7">6</text><text transform="translate(92.3 223.8) rotate(-44.6)" y="1.7">7</text><text transform="translate(77.3 248.4) rotate(-66)" y="1.7">7</text><text transform="translate(67.5 275.7) rotate(-73.7)" y="1.7">7</text><text transform="translate(129.1 223.5) rotate(-34.8)" y="1.7">8</text><text transform="translate(109.5 244.5) rotate(-56.5)" y="1.7">8</text><text transform="translate(97.1 270.7) rotate(-72.2)" y="1.7">8</text><text transform="translate(90.7 298.9) rotate(-80.5)" y="1.7">8</text><text transform="translate(158.6 222.9) rotate(-33.8)" y="1.7">9</text><text transform="translate(137.8 242.7) rotate(-56.4)" y="1.7">9</text><text transform="translate(127.2 269.3) rotate(-80.5)" y="1.7">9</text><text transform="translate(123.2 298.1) rotate(-83.6)" y="1.7">9</text><text transform="translate(183.7 224.3) rotate(-32.5)" y="1.7">10</text><text transform="translate(166.5 246.7) rotate(-75.4)" y="1.7">10</text><text transform="translate(161.3 275.2) rotate(-81.9)" y="1.7">10</text><text transform="translate(204.3 226.6) rotate(-47.7)" y="1.7">11</text><text transform="translate(192.2 252.6) rotate(-76.9)" y="1.7">11</text><text transform="translate(187.6 281.2) rotate(-85.5)" y="1.7">11</text><text transform="translate(227.9 228.2) rotate(-56.1)" y="1.7">12</text><text transform="translate(218.6 255.4) rotate(-81.3)" y="1.7">12</text><text transform="translate(249.3 229.4) rotate(-72.5)" y="1.7">13</text><text transform="translate(244.8 258) rotate(-86.5)" y="1.7">13</text><text transform="translate(267.5 231.2) rotate(-74.4)" y="1.7">14</text><text transform="translate(280.5 251.8) rotate(-85.3)" y="1.7">15</text></g>
</g>
<path d="M27.4 303L28 302.2L30.8 299.4L34.3 295.9L37.7 293.4L41.1 292.2L43.9 292L46.8 293.7L49.6 297.1L52.5 301.1L55.3 303.9L58.2 307.3L61 310.2L63.9 312.5L67.3 314.7L70.7 316.2L74.1 317L77.5 317.6L80.5 319L82.7 321.1L84.9 321.6L87.6 320.2L90.4 321.6L93.1 323.3L96.4 323.8L99.6 324.4L102.4 324.4L104.5 326L106.7 328.2L108.9 330.4L110.5 329.8L112.7 328.2L114.9 327.6L117.1 329.3L118.7 327.6L120.9 325.5L123.6 324.9L126.4 323.8L129.1 322.7L132.4 322.2L135.6 321.3L137.8 319.6L139.6 317.5L142.4 314.4L145.5 311.2L148.7 309L152.5 308L156.4 307L160.2 306.1L164 305.2L167.8 303.9L171.6 302.9L175.5 301.6L178.6 299.7L180.8 298.8L183.1 300.4L185.6 301.9L188.8 302.3L192 302.9L194.5 303L197.1 301.6L200.3 299.5L204.9 297.8L209.8 295.9L214.7 293.5L219.6 291L224.5 286.9L228.6 282L232.7 277.1L236.8 273.3L240.9 270.5L245 268.4L249.1 266.1L253.2 264.5L257.3 263.5L262.2 262.9L267.1 262.9L272 262.7L276.9 262.4L280.2 261.5L282.9 260.7L282.9 331.9L27.4 331.9Z" fill="#bfab74"/>
<g clip-path="url(#cpc)">
<g filter="url(#bl)">
<rect x="247.4" y="172.4" width="335.5" height="199.5" fill="#104699"/>
<path d="M306.7 172.4L300.1 213.6C299.3 214.2 296.7 215.9 295.6 217.2C294.6 218.6 294.2 219 293.8 221.7C293.4 224.3 293.4 226.6 293.3 233.3C293.2 240 293.3 252.7 293.3 261.8C293.3 270.8 293.3 281.7 293.3 287.6C293.4 293.6 293.5 295.8 293.6 297.5L291.6 371.9L582.9 371.9L582.9 172.4Z" fill="#105194"/>
<path d="M336.4 172.4L327.5 213.6C326.5 214.5 323 217.3 321.5 219.1C320.1 220.8 319.6 221.9 318.9 224.2C318.3 226.6 317.9 229.6 317.6 233.3C317.3 237 317.3 239.8 317.1 246.2C317 252.7 317 263.9 316.9 272.1C316.8 280.3 316.7 290.2 316.6 295.4C316.5 300.6 316.4 301.9 316.4 303.2L314.4 371.9L582.9 371.9L582.9 172.4Z" fill="#125c90"/>
<path d="M364.9 172.4L352.8 213.6C351.5 214.5 347 217.1 344.8 219.1C342.6 221 340.8 223.2 339.6 225.5C338.4 227.9 338.1 229.8 337.6 233.3C337.1 236.7 336.8 241.5 336.5 246.2C336.3 251 336.1 255.3 336 261.8C335.9 268.2 335.8 277.3 335.8 285.1C335.7 292.8 335.8 303.2 335.8 308.3C335.8 313.4 335.8 314.4 335.8 315.6L333.8 371.9L582.9 371.9L582.9 172.4Z" fill="#18658c"/>
<path d="M391 172.4L384.4 213.6C383.7 213.9 381.9 214.7 380 215.4C378.2 216.2 375.4 217.1 373.3 218C371.2 218.9 369.2 219.5 367.3 220.9C365.4 222.2 363.2 224.2 361.9 226.3C360.6 228.4 360 228.5 359.6 233.6C359.1 238.6 359.2 247.6 359.1 256.6C358.9 265.6 358.9 277.7 358.8 287.6C358.7 297.6 358.6 310.4 358.5 316.1C358.5 321.8 358.5 320.9 358.5 321.8L356.5 371.9L582.9 371.9L582.9 172.4Z" fill="#216f8a"/>
<path d="M421.1 172.4L414.5 213.6C413.8 213.9 411.9 214.6 410.1 215.2C408.3 215.8 406.2 216.4 403.6 217.2C401.1 218.1 397.6 219 394.6 220.1C391.6 221.2 387.8 222.4 385.5 223.7C383.2 225.1 382 226.2 380.9 228.1C379.7 230.1 379.2 229.8 378.8 235.4C378.4 241 378.6 253 378.5 261.8C378.5 270.5 378.4 279 378.3 287.6C378.2 296.3 378.1 307.4 378 313.5C378 319.6 378 322.6 378 324.4L376 371.9L582.9 371.9L582.9 172.4Z" fill="#297889"/>
<path d="M458.2 172.4L445.1 213.4C443.6 213.7 439.2 214.7 436.2 215.4C433.3 216.1 430.5 216.8 427.4 217.5C424.4 218.2 420.8 219 417.9 219.8C415 220.7 412.3 221.6 410.1 222.7C408 223.7 406.4 224.8 404.9 226.1C403.4 227.3 402.1 228.3 401.1 229.9C400 231.6 399.1 233.4 398.5 235.9C397.9 238.4 397.6 240.6 397.4 244.9C397.2 249.3 397.3 254.6 397.2 261.8C397.1 268.9 397 279.9 396.9 287.6C396.8 295.4 396.7 303.5 396.7 308.3C396.6 313.2 396.7 315.2 396.7 316.6L394.7 371.9L582.9 371.9L582.9 172.4Z" fill="#2f8088"/>
<path d="M479.5 172.4L469 212.8C467.8 213.3 464.2 215.1 462 216C459.8 216.9 458.3 217.4 456 218C453.7 218.6 450.7 219.1 448 219.6C445.3 220.1 443.5 220.1 440 221C436.5 221.9 430.1 223.6 426.9 225C423.8 226.4 422.5 227.6 421.2 229.4C419.9 231.2 419.6 232.6 419.2 235.9C418.7 239.1 418.6 242.3 418.4 248.8C418.2 255.3 418.2 266.9 418.1 274.7C418.1 282.5 417.9 290.4 417.9 295.4C417.8 300.4 417.9 303.4 417.9 305L415.9 371.9L582.9 371.9L582.9 172.4Z" fill="#368988"/>
<path d="M490.5 172.4L483.6 212.8C482.8 213.8 481.3 217.1 479 219C476.7 220.9 473.2 223.2 470 224.4C466.8 225.6 463.2 225.9 460 226.4C456.8 226.9 453.5 227.1 451 227.6C448.5 228.1 447.2 228.7 445.1 229.7C442.9 230.6 439.4 231.6 437.8 233.3C436.2 235 435.8 236.7 435.2 239.8C434.7 242.8 434.7 245.6 434.4 251.4C434.2 257.2 434.1 267.8 433.9 274.7C433.8 281.6 433.7 288.2 433.7 292.8C433.6 297.4 433.7 300.8 433.7 302.4L431.7 371.9L582.9 371.9L582.9 172.4Z" fill="#3b9286"/>
<path d="M498.2 172.4L494 212.8C493.5 213.7 492.3 216.2 491.2 218C490.1 219.8 489 221.6 487.2 223.4C485.4 225.2 482.7 227.5 480.2 229C477.7 230.5 475 231.5 472 232.4C469 233.3 464.7 233.6 462 234.4C459.3 235.2 457.3 236 456 237.2C454.7 238.4 454.5 237.5 454 241.6C453.5 245.7 453.3 256.2 453.1 261.8C452.9 267.3 452.9 269.5 452.8 274.7C452.7 279.9 452.6 288.6 452.6 292.8C452.5 297 452.6 298.6 452.6 299.8L450.6 371.9L582.9 371.9L582.9 172.4Z" fill="#409c85"/>
<path d="M504.7 172.4L501.4 212.8C501 214 500 217.8 499.2 220C498.4 222.2 497.7 224.1 496.4 226.2C495.1 228.3 493.3 230.6 491.6 232.6C489.9 234.6 488.1 236.2 486 238C483.9 239.8 481.3 241.5 479.2 243.2C477.1 244.9 474.9 246.6 473.4 248.2C471.9 249.8 470.9 251.3 470.2 253C469.5 254.7 469.4 254.7 469.2 258.4C469 262.1 469.1 269.4 468.9 275.2C468.7 281 468 290.3 467.9 293.3L465.9 371.9L582.9 371.9L582.9 172.4Z" fill="#47a582"/>
<path d="M506.7 172.4L504 212.8C503.7 214.2 502.9 218.4 502.2 221C501.5 223.6 500.9 226.3 500 228.6C499.1 230.9 498.1 232.7 496.8 234.8C495.5 236.9 493.5 239 492 241C490.5 243 488.8 245.1 487.6 247C486.4 248.9 485.6 250.7 485 252.6C484.4 254.5 484.2 254.6 483.8 258.4C483.4 262.2 482.8 270.1 482.4 275.2C481.9 280.3 481.5 286.6 481.3 288.9L479.3 371.9L582.9 371.9L582.9 172.4Z" fill="#4eae7e"/>
<path d="M512.1 172.4L509.4 212.8C509.1 214 508.3 217.5 507.6 220C506.9 222.5 506.1 225.3 505.4 228C504.7 230.7 504 233.3 503.2 236C502.4 238.7 501.3 241.3 500.4 244C499.5 246.7 498.5 249.3 497.8 252C497.1 254.7 496.8 257.3 496.4 260C496 262.7 495.8 265.2 495.6 268C495.4 270.8 495.3 275.5 495.2 277L493.2 371.9L582.9 371.9L582.9 172.4Z" fill="#59b778"/>
<path d="M527.4 172.4L522 212.8C521.4 213.8 519.6 216.6 518.4 219C517.2 221.4 516.1 224.2 515 227C513.9 229.8 512.8 232.8 512 236C511.2 239.2 510.6 242.7 510 246C509.4 249.3 508.9 253 508.6 256C508.3 259 508.1 262.2 508 264C507.9 265.8 508 266.5 508 267L506 371.9L582.9 371.9L582.9 172.4Z" fill="#66c070"/>
<path d="M539.5 172.4L535.6 212.8C535.2 213.3 534 214.5 533 216C532 217.5 530.6 219.8 529.6 222C528.6 224.2 527.7 226.3 527 229C526.3 231.7 526 234.5 525.6 238C525.2 241.5 524.7 246.2 524.4 250C524.1 253.8 523.7 258.7 523.6 261C523.5 263.3 523.6 263.5 523.6 264L521.6 371.9L582.9 371.9L582.9 172.4Z" fill="#76c869"/>
<path d="M582.9 217.6L544 223.6C543.7 224 542.9 224.9 542.4 226C541.9 227.1 541.5 228 541 230C540.5 232 540 235 539.6 238C539.2 241 538.7 244.5 538.4 248C538.1 251.5 537.7 256.6 537.6 259C537.5 261.4 537.6 261.8 537.6 262.4L535.6 371.9L582.9 371.9Z" fill="#8bcf62"/>
</g>
<g fill="none" stroke="#0a1418" stroke-width="1.12" stroke-linejoin="round">
<path d="M300.1 213.6C299.3 214.2 296.7 215.9 295.6 217.2C294.6 218.6 294.2 219 293.8 221.7C293.4 224.3 293.4 226.6 293.3 233.3C293.2 240 293.3 252.7 293.3 261.8C293.3 270.8 293.3 281.7 293.3 287.6C293.4 293.6 293.5 295.8 293.6 297.5" stroke-dasharray="18.3 3.4 25.6 3.4 25.6 3.4 56.7"/>
<path d="M327.5 213.6C326.5 214.5 323 217.3 321.5 219.1C320.1 220.8 319.6 221.9 318.9 224.2C318.3 226.6 317.9 229.6 317.6 233.3C317.3 237 317.3 239.8 317.1 246.2C317 252.7 317 263.9 316.9 272.1C316.8 280.3 316.7 290.2 316.6 295.4C316.5 300.6 316.4 301.9 316.4 303.2" stroke-dasharray="18.3 3.4 25.6 3.4 25.6 3.4 63.3"/>
<path d="M352.8 213.6C351.5 214.5 347 217.1 344.8 219.1C342.6 221 340.8 223.2 339.6 225.5C338.4 227.9 338.1 229.8 337.6 233.3C337.1 236.7 336.8 241.5 336.5 246.2C336.3 251 336.1 255.3 336 261.8C335.9 268.2 335.8 277.3 335.8 285.1C335.7 292.8 335.8 303.2 335.8 308.3C335.8 313.4 335.8 314.4 335.8 315.6" stroke-dasharray="18.3 3.4 25.6 3.4 25.6 3.4 78.8"/>
<path d="M384.4 213.6C383.7 213.9 381.9 214.7 380 215.4C378.2 216.2 375.4 217.1 373.3 218C371.2 218.9 369.2 219.5 367.3 220.9C365.4 222.2 363.2 224.2 361.9 226.3C360.6 228.4 360 228.5 359.6 233.6C359.1 238.6 359.2 247.6 359.1 256.6C358.9 265.6 358.9 277.7 358.8 287.6C358.7 297.6 358.6 310.4 358.5 316.1C358.5 321.8 358.5 320.9 358.5 321.8" stroke-dasharray="18.3 3.4 25.6 3.4 25.6 3.4 25.6 3.4 63.6"/>
<path d="M414.5 213.6C413.8 213.9 411.9 214.6 410.1 215.2C408.3 215.8 406.2 216.4 403.6 217.2C401.1 218.1 397.6 219 394.6 220.1C391.6 221.2 387.8 222.4 385.5 223.7C383.2 225.1 382 226.2 380.9 228.1C379.7 230.1 379.2 229.8 378.8 235.4C378.4 241 378.6 253 378.5 261.8C378.5 270.5 378.4 279 378.3 287.6C378.2 296.3 378.1 307.4 378 313.5C378 319.6 378 322.6 378 324.4" stroke-dasharray="18.3 3.4 25.6 3.4 25.6 3.4 25.6 3.4 75.2"/>
<path d="M445.1 213.4C443.6 213.7 439.2 214.7 436.2 215.4C433.3 216.1 430.5 216.8 427.4 217.5C424.4 218.2 420.8 219 417.9 219.8C415 220.7 412.3 221.6 410.1 222.7C408 223.7 406.4 224.8 404.9 226.1C403.4 227.3 402.1 228.3 401.1 229.9C400 231.6 399.1 233.4 398.5 235.9C397.9 238.4 397.6 240.6 397.4 244.9C397.2 249.3 397.3 254.6 397.2 261.8C397.1 268.9 397 279.9 396.9 287.6C396.8 295.4 396.7 303.5 396.7 308.3C396.6 313.2 396.7 315.2 396.7 316.6" stroke-dasharray="17 6 23 6 23 6 23 6 75.3"/>
<path d="M469 212.8C467.8 213.3 464.2 215.1 462 216C459.8 216.9 458.3 217.4 456 218C453.7 218.6 450.7 219.1 448 219.6C445.3 220.1 443.5 220.1 440 221C436.5 221.9 430.1 223.6 426.9 225C423.8 226.4 422.5 227.6 421.2 229.4C419.9 231.2 419.6 232.6 419.2 235.9C418.7 239.1 418.6 242.3 418.4 248.8C418.2 255.3 418.2 266.9 418.1 274.7C418.1 282.5 417.9 290.4 417.9 295.4C417.8 300.4 417.9 303.4 417.9 305" stroke-dasharray="17 6 23 6 23 6 23 6 67.3"/>
<path d="M483.6 212.8C482.8 213.8 481.3 217.1 479 219C476.7 220.9 473.2 223.2 470 224.4C466.8 225.6 463.2 225.9 460 226.4C456.8 226.9 453.5 227.1 451 227.6C448.5 228.1 447.2 228.7 445.1 229.7C442.9 230.6 439.4 231.6 437.8 233.3C436.2 235 435.8 236.7 435.2 239.8C434.7 242.8 434.7 245.6 434.4 251.4C434.2 257.2 434.1 267.8 433.9 274.7C433.8 281.6 433.7 288.2 433.7 292.8C433.6 297.4 433.7 300.8 433.7 302.4" stroke-dasharray="17 6 23 6 23 6 23 6 61.8"/>
<path d="M494 212.8C493.5 213.7 492.3 216.2 491.2 218C490.1 219.8 489 221.6 487.2 223.4C485.4 225.2 482.7 227.5 480.2 229C477.7 230.5 475 231.5 472 232.4C469 233.3 464.7 233.6 462 234.4C459.3 235.2 457.3 236 456 237.2C454.7 238.4 454.5 237.5 454 241.6C453.5 245.7 453.3 256.2 453.1 261.8C452.9 267.3 452.9 269.5 452.8 274.7C452.7 279.9 452.6 288.6 452.6 292.8C452.5 297 452.6 298.6 452.6 299.8" stroke-dasharray="17 6 23 6 23 6 79.7"/>
<path d="M501.4 212.8C501 214 500 217.8 499.2 220C498.4 222.2 497.7 224.1 496.4 226.2C495.1 228.3 493.3 230.6 491.6 232.6C489.9 234.6 488.1 236.2 486 238C483.9 239.8 481.3 241.5 479.2 243.2C477.1 244.9 474.9 246.6 473.4 248.2C471.9 249.8 470.9 251.3 470.2 253C469.5 254.7 469.4 254.7 469.2 258.4C469 262.1 469.1 269.4 468.9 275.2C468.7 281 468 290.3 467.9 293.3" stroke-dasharray="17 6 23 6 23 6 61.7"/>
<path d="M504 212.8C503.7 214.2 502.9 218.4 502.2 221C501.5 223.6 500.9 226.3 500 228.6C499.1 230.9 498.1 232.7 496.8 234.8C495.5 236.9 493.5 239 492 241C490.5 243 488.8 245.1 487.6 247C486.4 248.9 485.6 250.7 485 252.6C484.4 254.5 484.2 254.6 483.8 258.4C483.4 262.2 482.8 270.1 482.4 275.2C481.9 280.3 481.5 286.6 481.3 288.9" stroke-dasharray="17 6 23 6 79.4"/>
<path d="M509.4 212.8C509.1 214 508.3 217.5 507.6 220C506.9 222.5 506.1 225.3 505.4 228C504.7 230.7 504 233.3 503.2 236C502.4 238.7 501.3 241.3 500.4 244C499.5 246.7 498.5 249.3 497.8 252C497.1 254.7 496.8 257.3 496.4 260C496 262.7 495.8 265.2 495.6 268C495.4 270.8 495.3 275.5 495.2 277" stroke-dasharray="17 6 23 6 64.1"/>
<path d="M522 212.8C521.4 213.8 519.6 216.6 518.4 219C517.2 221.4 516.1 224.2 515 227C513.9 229.8 512.8 232.8 512 236C511.2 239.2 510.6 242.7 510 246C509.4 249.3 508.9 253 508.6 256C508.3 259 508.1 262.2 508 264C507.9 265.8 508 266.5 508 267" stroke-dasharray="17 6 23 6 54.7"/>
<path d="M535.6 212.8C535.2 213.3 534 214.5 533 216C532 217.5 530.6 219.8 529.6 222C528.6 224.2 527.7 226.3 527 229C526.3 231.7 526 234.5 525.6 238C525.2 241.5 524.7 246.2 524.4 250C524.1 253.8 523.7 258.7 523.6 261C523.5 263.3 523.6 263.5 523.6 264" stroke-dasharray="17 6 80.7"/>
<path d="M544 223.6C543.7 224 542.9 224.9 542.4 226C541.9 227.1 541.5 228 541 230C540.5 232 540 235 539.6 238C539.2 241 538.7 244.5 538.4 248C538.1 251.5 537.7 256.6 537.6 259C537.5 261.4 537.6 261.8 537.6 262.4" stroke-dasharray="17 6 66.8"/>
</g>
<g font-family="'Liberation Sans', sans-serif" font-size="4.9" font-weight="bold" fill="#0a1418" text-anchor="middle"><text transform="translate(293.3 231.1) rotate(-89.3)" y="1.7">5</text><text transform="translate(293.3 260.1) rotate(-90)" y="1.7">5</text><text transform="translate(293.3 289.1) rotate(-90.8)" y="1.7">5</text><text transform="translate(317.9 230.2) rotate(-84)" y="1.7">6</text><text transform="translate(317 259.2) rotate(-89.5)" y="1.7">6</text><text transform="translate(316.7 288.2) rotate(-89.3)" y="1.7">6</text><text transform="translate(338.9 227.3) rotate(-71.7)" y="1.7">7</text><text transform="translate(336.1 256.1) rotate(-88.6)" y="1.7">7</text><text transform="translate(335.8 285.1) rotate(-89.8)" y="1.7">7</text><text transform="translate(366.2 221.7) rotate(-39.8)" y="1.7">8</text><text transform="translate(359.1 248.5) rotate(-89.4)" y="1.7">8</text><text transform="translate(358.9 277.5) rotate(-89.6)" y="1.7">8</text><text transform="translate(358.6 306.5) rotate(-89.5)" y="1.7">8</text><text transform="translate(395.5 219.8) rotate(-18.6)" y="1.7">9</text><text transform="translate(378.6 239.5) rotate(-88.7)" y="1.7">9</text><text transform="translate(378.5 268.5) rotate(-89.4)" y="1.7">9</text><text transform="translate(378.2 297.5) rotate(-89.4)" y="1.7">9</text><text transform="translate(425.6 217.9) rotate(-13)" y="1.7">10</text><text transform="translate(400.5 230.9) rotate(-61)" y="1.7">10</text><text transform="translate(397.2 259.4) rotate(-89.5)" y="1.7">10</text><text transform="translate(396.9 288.4) rotate(-89.3)" y="1.7">10</text><text transform="translate(450.2 219.2) rotate(-10.5)" y="1.7">11</text><text transform="translate(422.7 227.7) rotate(-44.2)" y="1.7">11</text><text transform="translate(418.3 255.7) rotate(-89.4)" y="1.7">11</text><text transform="translate(418 284.7) rotate(-89.2)" y="1.7">11</text><text transform="translate(468.4 224.9) rotate(-14.5)" y="1.7">12</text><text transform="translate(440.3 231.6) rotate(-29)" y="1.7">12</text><text transform="translate(434.2 258.6) rotate(-88.7)" y="1.7">12</text><text transform="translate(433.7 287.6) rotate(-89.3)" y="1.7">12</text><text transform="translate(481.6 228.1) rotate(-33.9)" y="1.7">13</text><text transform="translate(454.8 238.2) rotate(-62.3)" y="1.7">13</text><text transform="translate(452.9 267.1) rotate(-88.9)" y="1.7">13</text><text transform="translate(493.1 230.8) rotate(-50.8)" y="1.7">14</text><text transform="translate(471.7 250.2) rotate(-56.2)" y="1.7">14</text><text transform="translate(468.7 278.7) rotate(-87)" y="1.7">14</text><text transform="translate(498.5 232) rotate(-61.6)" y="1.7">15</text><text transform="translate(484 256.7) rotate(-82.5)" y="1.7">15</text><text transform="translate(504.3 232.1) rotate(-74.7)" y="1.7">16</text><text transform="translate(496.4 260) rotate(-82.4)" y="1.7">16</text><text transform="translate(513.6 230.9) rotate(-71.3)" y="1.7">17</text><text transform="translate(508.3 259.3) rotate(-85.6)" y="1.7">17</text><text transform="translate(526.7 230.5) rotate(-79.2)" y="1.7">18</text><text transform="translate(539 242.7) rotate(-83.1)" y="1.7">19</text></g>
</g>
<path d="M287.4 303L288 302.2L290.8 299.4L294.3 295.9L297.7 293.4L301.1 292.2L303.9 292L306.8 293.7L309.6 297.1L312.5 301.1L315.3 303.9L318.2 307.3L321 310.2L323.9 312.5L327.3 314.7L330.7 316.2L334.1 317L337.5 317.6L340.5 319L342.7 321.1L344.9 321.6L347.6 320.2L350.4 321.6L353.1 323.3L356.4 323.8L359.6 324.4L362.4 324.4L364.5 326L366.7 328.2L368.9 330.4L370.5 329.8L372.7 328.2L374.9 327.6L377.1 329.3L378.7 327.6L380.9 325.5L383.6 324.9L386.4 323.8L389.1 322.7L392.4 322.2L395.6 321.3L397.8 319.6L399.6 317.5L402.4 314.4L405.5 311.2L408.7 309L412.5 308L416.4 307L420.2 306.1L424 305.2L427.8 303.9L431.6 302.9L435.5 301.6L438.6 299.7L440.8 298.8L443.1 300.4L445.6 301.9L448.8 302.3L452 302.9L454.5 303L457.1 301.6L460.3 299.5L464.9 297.8L469.8 295.9L474.7 293.5L479.6 291L484.5 286.9L488.6 282L492.7 277.1L496.8 273.3L500.9 270.5L505 268.4L509.1 266.1L513.2 264.5L517.3 263.5L522.2 262.9L527.1 262.9L532 262.7L536.9 262.4L540.2 261.5L542.9 260.7L542.9 331.9L287.4 331.9Z" fill="#bfab74"/>
<g clip-path="url(#cpd)">
<g filter="url(#bl)">
<rect x="-12.6" y="297.5" width="335.5" height="199.2" fill="#1b369c"/>
<path d="M79.6 297.5L64.1 338.1C62.4 339.1 56.8 342.2 53.8 344.1C50.7 345.9 48.4 347.1 46 349.2C43.6 351.4 41.5 354 39.5 357C37.6 360 35.9 363.7 34.4 367.4C32.8 371 31.6 375.2 30.5 379C29.3 382.8 28.1 388.3 27.6 390.1L-12.6 410.1L-12.6 496.7L322.9 496.7L322.9 297.5Z" fill="#104699"/>
<path d="M108.1 297.5L93.4 338.1C91.7 339.2 86.5 342.8 83.5 344.8C80.6 346.9 78.1 348.1 75.8 350.5C73.4 353 71.2 356.4 69.3 359.6C67.3 362.8 65.8 366.1 64.1 369.9C62.4 373.8 60.7 378.4 58.9 382.9C57.2 387.4 55.3 392.6 53.8 397.1C52.2 401.6 50.9 406.2 49.9 410.1C48.9 413.9 48.2 418.7 47.8 420.4L45.8 496.7L322.9 496.7L322.9 297.5Z" fill="#105194"/>
<path d="M153.4 297.5L135.9 338.1C133.9 338.9 127.8 341.1 124.2 342.8C120.7 344.4 117.5 346 114.6 347.9C111.7 349.9 109.2 351.8 106.8 354.4C104.4 357 102.7 359.4 100.3 363.5C98 367.6 95 374 92.6 379C90.2 384 88.3 388.3 86.1 393.2C84 398.2 81.4 403.8 79.6 408.8C77.9 413.7 76.8 418.7 75.8 423C74.8 427.3 74.1 431.7 73.7 434.6C73.3 437.6 73.3 439.6 73.2 440.6L71.2 496.7L322.9 496.7L322.9 297.5Z" fill="#125c90"/>
<path d="M190.2 297.5L171.6 338.1C169.5 339.1 163 342 159.2 344.1C155.4 346.1 152.3 347.9 148.8 350.5C145.4 353.1 141.5 356.6 138.5 359.6C135.4 362.6 133.1 365.2 130.7 368.6C128.3 372.1 126.3 376.8 124.2 380.3C122.2 383.7 120.3 385.7 118.5 389.4C116.6 393 114.8 397.5 113.3 402.3C111.8 407 110.4 412.6 109.4 417.8C108.4 423 107.8 428.6 107.3 433.3C106.8 438.1 106.6 443.6 106.3 446.3C106 449 105.9 448.9 105.8 449.4L103.8 496.7L322.9 496.7L322.9 297.5Z" fill="#18658c"/>
<path d="M221.3 297.5L201.1 338.1C198.9 339.1 191.4 342.2 187.6 344.1C183.9 345.9 181.4 347.3 178.6 349.2C175.8 351.2 173.4 353.1 170.8 355.7C168.2 358.3 165.4 361.3 163.1 364.8C160.7 368.2 158.5 372.5 156.6 376.4C154.6 380.3 152.9 384.2 151.4 388.1C149.9 391.9 148.7 395.6 147.5 399.7C146.3 403.8 145 408.3 144.2 412.6C143.3 417 142.9 421.4 142.3 425.6C141.8 429.8 141.3 435.9 141.1 438L139.1 496.7L322.9 496.7L322.9 297.5Z" fill="#216f8a"/>
<path d="M231.4 297.5L220.5 338.1C219.3 338.8 215.8 341 213.3 342.2C210.8 343.5 207.4 344.3 205.5 345.9C203.6 347.5 203.8 349.8 201.9 351.8C200 353.9 196.5 355.7 194.1 358.3C191.7 360.9 189.4 364.1 187.6 367.4C185.9 370.6 184.8 374 183.8 377.7C182.7 381.4 181.9 385.3 181.2 389.4C180.4 393.4 179.9 398 179.4 402.3C178.8 406.6 178.2 411.3 177.8 415.2C177.4 419.2 176.9 424.3 176.8 426.1L174.8 496.7L322.9 496.7L322.9 297.5Z" fill="#297889"/>
<path d="M254.7 297.5L243.8 338.1C242.6 339.1 239.1 342 236.6 344.1C234.1 346.1 231.2 348.2 228.8 350.5C226.4 352.9 224.3 355.5 222.3 358.3C220.4 361.1 218.7 364.1 217.2 367.4C215.7 370.6 214.5 373.8 213.3 377.7C212.1 381.6 211.1 386.3 210.2 390.6C209.3 395 208.7 399.7 208.1 403.6C207.6 407.5 207.2 411.2 206.8 413.9C206.5 416.6 206.2 418.9 206.1 419.9L204.1 496.7L322.9 496.7L322.9 297.5Z" fill="#2f8088"/>
<path d="M269.6 297.5L260.6 338.1C259.7 338.9 256.6 340.9 254.7 342.8C252.8 344.6 251 346.6 249.5 349.2C248 351.8 246.7 355.1 245.6 358.3C244.6 361.5 243.8 365 243.1 368.6C242.3 372.3 241.7 376.6 241.2 380.3C240.8 384 240.5 388.1 240.2 390.6C240 393.1 239.8 394.5 239.7 395.3L237.7 496.7L322.9 496.7L322.9 297.5Z" fill="#368988"/>
<path d="M281.9 297.5L274.9 338.1C274.1 339.1 271.7 341.8 270.2 344.1C268.8 346.3 267.4 349 266.4 351.8C265.3 354.6 264.6 357.4 263.8 360.9C262.9 364.3 261.8 368.9 261.2 372.5C260.5 376.2 260.2 380.2 259.9 382.9C259.6 385.6 259.4 387.8 259.4 388.8L257.4 496.7L322.9 496.7L322.9 297.5Z" fill="#3b9286"/>
<path d="M322.9 347.6L283.2 353.6C282.7 354.8 281.4 357.9 280.6 360.9C279.7 363.8 278.6 367.8 278 371.2C277.3 374.7 277 379.1 276.7 381.6C276.4 384.1 276.3 385.5 276.2 386.2L274.2 496.7L322.9 496.7Z" fill="#409c85"/>
</g>
<g fill="none" stroke="#0a1418" stroke-width="1.12" stroke-linejoin="round">
<path d="M64.1 338.1C62.4 339.1 56.8 342.2 53.8 344.1C50.7 345.9 48.4 347.1 46 349.2C43.6 351.4 41.5 354 39.5 357C37.6 360 35.9 363.7 34.4 367.4C32.8 371 31.6 375.2 30.5 379C29.3 382.8 28.1 388.3 27.6 390.1" stroke-dasharray="18.3 3.4 25.6 3.4 66.1"/>
<path d="M93.4 338.1C91.7 339.2 86.5 342.8 83.5 344.8C80.6 346.9 78.1 348.1 75.8 350.5C73.4 353 71.2 356.4 69.3 359.6C67.3 362.8 65.8 366.1 64.1 369.9C62.4 373.8 60.7 378.4 58.9 382.9C57.2 387.4 55.3 392.6 53.8 397.1C52.2 401.6 50.9 406.2 49.9 410.1C48.9 413.9 48.2 418.7 47.8 420.4" stroke-dasharray="18.3 3.4 25.6 3.4 25.6 3.4 67.8"/>
<path d="M135.9 338.1C133.9 338.9 127.8 341.1 124.2 342.8C120.7 344.4 117.5 346 114.6 347.9C111.7 349.9 109.2 351.8 106.8 354.4C104.4 357 102.7 359.4 100.3 363.5C98 367.6 95 374 92.6 379C90.2 384 88.3 388.3 86.1 393.2C84 398.2 81.4 403.8 79.6 408.8C77.9 413.7 76.8 418.7 75.8 423C74.8 427.3 74.1 431.7 73.7 434.6C73.3 437.6 73.3 439.6 73.2 440.6" stroke-dasharray="18.3 3.4 25.6 3.4 25.6 3.4 25.6 3.4 68.5"/>
<path d="M171.6 338.1C169.5 339.1 163 342 159.2 344.1C155.4 346.1 152.3 347.9 148.8 350.5C145.4 353.1 141.5 356.6 138.5 359.6C135.4 362.6 133.1 365.2 130.7 368.6C128.3 372.1 126.3 376.8 124.2 380.3C122.2 383.7 120.3 385.7 118.5 389.4C116.6 393 114.8 397.5 113.3 402.3C111.8 407 110.4 412.6 109.4 417.8C108.4 423 107.8 428.6 107.3 433.3C106.8 438.1 106.6 443.6 106.3 446.3C106 449 105.9 448.9 105.8 449.4" stroke-dasharray="18.3 3.4 25.6 3.4 25.6 3.4 25.6 3.4 78.9"/>
<path d="M201.1 338.1C198.9 339.1 191.4 342.2 187.6 344.1C183.9 345.9 181.4 347.3 178.6 349.2C175.8 351.2 173.4 353.1 170.8 355.7C168.2 358.3 165.4 361.3 163.1 364.8C160.7 368.2 158.5 372.5 156.6 376.4C154.6 380.3 152.9 384.2 151.4 388.1C149.9 391.9 148.7 395.6 147.5 399.7C146.3 403.8 145 408.3 144.2 412.6C143.3 417 142.9 421.4 142.3 425.6C141.8 429.8 141.3 435.9 141.1 438" stroke-dasharray="18.3 3.4 25.6 3.4 25.6 3.4 25.6 3.4 65.8"/>
<path d="M220.5 338.1C219.3 338.8 215.8 341 213.3 342.2C210.8 343.5 207.4 344.3 205.5 345.9C203.6 347.5 203.8 349.8 201.9 351.8C200 353.9 196.5 355.7 194.1 358.3C191.7 360.9 189.4 364.1 187.6 367.4C185.9 370.6 184.8 374 183.8 377.7C182.7 381.4 181.9 385.3 181.2 389.4C180.4 393.4 179.9 398 179.4 402.3C178.8 406.6 178.2 411.3 177.8 415.2C177.4 419.2 176.9 424.3 176.8 426.1" stroke-dasharray="18.3 3.4 25.6 3.4 25.6 3.4 75.6"/>
<path d="M243.8 338.1C242.6 339.1 239.1 342 236.6 344.1C234.1 346.1 231.2 348.2 228.8 350.5C226.4 352.9 224.3 355.5 222.3 358.3C220.4 361.1 218.7 364.1 217.2 367.4C215.7 370.6 214.5 373.8 213.3 377.7C212.1 381.6 211.1 386.3 210.2 390.6C209.3 395 208.7 399.7 208.1 403.6C207.6 407.5 207.2 411.2 206.8 413.9C206.5 416.6 206.2 418.9 206.1 419.9" stroke-dasharray="17 6 23 6 23 6 63"/>
<path d="M260.6 338.1C259.7 338.9 256.6 340.9 254.7 342.8C252.8 344.6 251 346.6 249.5 349.2C248 351.8 246.7 355.1 245.6 358.3C244.6 361.5 243.8 365 243.1 368.6C242.3 372.3 241.7 376.6 241.2 380.3C240.8 384 240.5 388.1 240.2 390.6C240 393.1 239.8 394.5 239.7 395.3" stroke-dasharray="17 6 23 6 61.3"/>
<path d="M274.9 338.1C274.1 339.1 271.7 341.8 270.2 344.1C268.8 346.3 267.4 349 266.4 351.8C265.3 354.6 264.6 357.4 263.8 360.9C262.9 364.3 261.8 368.9 261.2 372.5C260.5 376.2 260.2 380.2 259.9 382.9C259.6 385.6 259.4 387.8 259.4 388.8" stroke-dasharray="17 6 81"/>
<path d="M283.2 353.6C282.7 354.8 281.4 357.9 280.6 360.9C279.7 363.8 278.6 367.8 278 371.2C277.3 374.7 277 379.1 276.7 381.6C276.4 384.1 276.3 385.5 276.2 386.2" stroke-dasharray="17 6 60.5"/>
</g>
<g font-family="'Liberation Sans', sans-serif" font-size="4.9" font-weight="bold" fill="#0a1418" text-anchor="middle"><text transform="translate(47 348.4) rotate(-40.1)" y="1.7">4</text><text transform="translate(32.3 373) rotate(-71.8)" y="1.7">4</text><text transform="translate(76.9 349.5) rotate(-43.7)" y="1.7">5</text><text transform="translate(62.3 374.3) rotate(-68.1)" y="1.7">5</text><text transform="translate(52.3 401.5) rotate(-72.7)" y="1.7">5</text><text transform="translate(117.6 346.1) rotate(-30.6)" y="1.7">6</text><text transform="translate(98.3 367.2) rotate(-62.9)" y="1.7">6</text><text transform="translate(86 393.4) rotate(-66.3)" y="1.7">6</text><text transform="translate(76.3 420.7) rotate(-76.7)" y="1.7">6</text><text transform="translate(153.8 347.2) rotate(-32.6)" y="1.7">7</text><text transform="translate(132.3 366.5) rotate(-53.6)" y="1.7">7</text><text transform="translate(117.5 391.3) rotate(-65.9)" y="1.7">7</text><text transform="translate(109.2 419) rotate(-80)" y="1.7">7</text><text transform="translate(183 346.5) rotate(-29.6)" y="1.7">8</text><text transform="translate(162.1 366.2) rotate(-57.9)" y="1.7">8</text><text transform="translate(149.8 392.5) rotate(-71.3)" y="1.7">8</text><text transform="translate(142.9 420.6) rotate(-82.9)" y="1.7">8</text><text transform="translate(203.8 348.4) rotate(-63)" y="1.7">9</text><text transform="translate(186.1 370.7) rotate(-68.8)" y="1.7">9</text><text transform="translate(179.8 399) rotate(-82.6)" y="1.7">9</text><text transform="translate(228.5 350.9) rotate(-45.5)" y="1.7">10</text><text transform="translate(213.9 375.7) rotate(-72.2)" y="1.7">10</text><text transform="translate(208.1 404) rotate(-82.2)" y="1.7">10</text><text transform="translate(247.7 352.9) rotate(-67)" y="1.7">11</text><text transform="translate(241.1 381.1) rotate(-83.3)" y="1.7">11</text><text transform="translate(265.2 355.4) rotate(-74.4)" y="1.7">12</text><text transform="translate(277.7 372.8) rotate(-81.2)" y="1.7">13</text></g>
</g>
<path d="M27.4 427.8L28 427L30.8 424.2L34.3 420.7L37.7 418.2L41.1 417L43.9 416.8L46.8 418.5L49.6 421.9L52.5 425.9L55.3 428.7L58.2 432.1L61 435L63.9 437.3L67.3 439.5L70.7 441L74.1 441.8L77.5 442.4L80.5 443.8L82.7 445.9L84.9 446.4L87.6 445L90.4 446.4L93.1 448.1L96.4 448.6L99.6 449.2L102.4 449.2L104.5 450.8L106.7 453L108.9 455.2L110.5 454.6L112.7 453L114.9 452.4L117.1 454.1L118.7 452.4L120.9 450.3L123.6 449.7L126.4 448.6L129.1 447.5L132.4 447L135.6 446.1L137.8 444.4L139.6 442.3L142.4 439.2L145.5 436L148.7 433.8L152.5 432.8L156.4 431.8L160.2 430.9L164 430L167.8 428.7L171.6 427.7L175.5 426.4L178.6 424.5L180.8 423.6L183.1 425.2L185.6 426.7L188.8 427.1L192 427.7L194.5 427.8L197.1 426.4L200.3 424.3L204.9 422.6L209.8 420.7L214.7 418.3L219.6 415.8L224.5 411.7L228.6 406.8L232.7 401.9L236.8 398.1L240.9 395.3L245 393.2L249.1 390.9L253.2 389.3L257.3 388.3L262.2 387.7L267.1 387.7L272 387.5L276.9 387.2L280.2 386.3L282.9 385.5L282.9 456.7L27.4 456.7Z" fill="#bfab74"/>
<g clip-path="url(#cpe)">
<g filter="url(#bl)">
<rect x="247.4" y="297.5" width="335.5" height="199.2" fill="#2a1f8e"/>
<path d="M315.1 297.5L304.2 338.1C303 338.9 298.7 341.1 296.9 342.8C295.2 344.4 294.6 345.8 293.8 347.9C293.1 350.1 292.9 351.4 292.5 355.7C292.2 360 292 366.5 291.8 373.8C291.5 381.2 291.4 392.4 291.2 399.7C291.1 407 291 414 291 417.8C290.9 421.6 291 421.7 291 422.5L289 496.7L582.9 496.7L582.9 297.5Z" fill="#27279f"/>
<path d="M342.9 297.5L331.6 338.1C330.4 339 325.9 341.6 324.1 343.3C322.3 344.9 321.6 345.9 320.8 347.9C319.9 350 319.6 351.4 319.2 355.7C318.8 360 318.6 366.5 318.4 373.8C318.2 381.2 318.2 391.5 318.2 399.7C318.1 407.9 317.9 417.9 317.9 423C317.9 428 317.9 428.8 317.9 430L315.9 496.7L582.9 496.7L582.9 297.5Z" fill="#1b369c"/>
<path d="M383 297.5L364.8 338.6C362.7 339.7 355.7 343.1 352.6 344.8C349.5 346.6 347.6 347.4 346.1 349.2C344.6 351 344.1 352.5 343.5 355.7C342.9 358.9 342.7 361.3 342.5 368.6C342.3 376 342.3 390.2 342.2 399.7C342.1 409.2 342 418.3 342 425.6C341.9 432.8 342 440.2 342 443.2L340 496.7L582.9 496.7L582.9 297.5Z" fill="#104699"/>
<path d="M402.5 297.5L395 338C394.2 338.4 392.2 339.8 390 340.6C387.8 341.4 384.3 342.1 382 343C379.7 343.9 377.7 344.7 376 346C374.3 347.3 373.3 349.2 372 351C370.7 352.8 369.1 354.1 368.1 357C367.2 359.9 366.7 361.5 366.3 368.6C365.9 375.8 365.7 388.9 365.5 399.7C365.3 410.5 365.3 425.1 365.3 433.3C365.2 441.6 365.3 446.7 365.3 449.4L363.3 496.7L582.9 496.7L582.9 297.5Z" fill="#105194"/>
<path d="M441.5 297.5L425 338C423.2 338.6 417.5 340.4 414 341.4C410.5 342.4 407.2 342.9 404 344C400.8 345.1 397.5 346.3 395 348C392.5 349.7 390.5 351.8 389 354C387.5 356.2 386.6 357.5 386 361C385.4 364.5 385.4 368.5 385.2 375C385 381.5 385.1 391.6 385 400C384.9 408.4 384.8 418.2 384.8 425.6C384.7 432.9 384.5 441.1 384.5 444.2L382.5 496.7L582.9 496.7L582.9 297.5Z" fill="#125c90"/>
<path d="M472.5 297.5L453 338C450.8 338.7 443.8 341 440 342C436.2 343 433 343.2 430 344C427 344.8 424.7 345.8 422 347C419.3 348.2 416.2 349.3 414 351C411.8 352.7 410.3 354.7 409 357C407.7 359.3 407 362 406.4 365C405.8 368 405.7 369.2 405.6 375C405.5 380.8 405.8 392 405.6 400C405.4 408 404.7 417.1 404.4 423C404.2 428.9 404.2 433.1 404.2 435.2L402.2 496.7L582.9 496.7L582.9 297.5Z" fill="#18658c"/>
<path d="M501 297.5L488.4 338C487 338.5 483.1 340.3 480 341C476.9 341.7 473.3 341.9 470 342.2C466.7 342.5 463.5 342.7 460 343C456.5 343.3 452.7 343.3 449 344C445.3 344.7 441.2 346.2 438 347.4C434.8 348.6 432 349.6 430 351C428 352.4 427 354 426 356C425 358 424.4 359.8 424 363C423.6 366.2 423.7 368.8 423.6 375C423.5 381.2 423.7 392.4 423.6 400C423.5 407.6 423 415.6 422.8 420.4C422.6 425.2 422.6 427.3 422.5 428.7L420.5 496.7L582.9 496.7L582.9 297.5Z" fill="#216f8a"/>
<path d="M504 297.5L500.4 338C500 338.3 499.2 339.2 498 340C496.8 340.8 495 342 493 343C491 344 488.3 345.4 486 346C483.7 346.6 481.7 346.6 479 346.6C476.3 346.6 473.2 346.1 470 346C466.8 345.9 462.7 345.6 460 346C457.3 346.4 456.2 347.6 454 348.6C451.8 349.6 448.8 350.6 447 352C445.2 353.4 444 355.2 443 357C442 358.8 441.6 360 441.2 363C440.8 366 440.7 368.8 440.6 375C440.5 381.2 440.5 391.7 440.4 400C440.3 408.3 440 420.7 439.9 424.8L437.9 496.7L582.9 496.7L582.9 297.5Z" fill="#297889"/>
<path d="M509 297.5L505.4 338C505 338.7 503.9 340.5 503 342C502.1 343.5 501.3 345.3 500 347C498.7 348.7 497 350.7 495 352C493 353.3 490.5 354.5 488 355C485.5 355.5 482.7 355.3 480 355C477.3 354.7 474.7 353.2 472 353C469.3 352.8 466 353.3 464 354C462 354.7 460.9 355.7 460 357C459.1 358.3 458.8 359 458.4 362C458 365 457.8 368.7 457.6 375C457.4 381.3 457.5 393.7 457.4 400C457.3 406.3 456.9 408.9 456.7 412.6C456.6 416.3 456.5 420.6 456.5 422.2L454.5 496.7L582.9 496.7L582.9 297.5Z" fill="#2f8088"/>
<path d="M514.2 297.5L510.5 338C510.1 338.8 508.8 341.2 508 343C507.2 344.8 506.4 347 505.6 349C504.8 351 503.9 353 503 355C502.1 357 501.2 359 500 361C498.8 363 497.7 365.2 496 367C494.3 368.8 492.3 370.3 490 372C487.7 373.7 484.2 375.3 482 377C479.8 378.7 478.1 380.3 477 382C475.9 383.7 475.9 384 475.6 387C475.3 390 475.4 395.5 475 400C474.6 404.5 473.6 410.8 473.3 414C473 417.2 473.1 418.2 473 419L471 496.7L582.9 496.7L582.9 297.5Z" fill="#368988"/>
<path d="M517.2 297.5L513.5 338C513.1 339 511.9 341.8 511 344C510.1 346.2 509.3 348.5 508.4 351C507.5 353.5 506.7 356.3 505.6 359C504.5 361.7 503.4 364.7 502 367C500.6 369.3 498.8 370.7 497 373C495.2 375.3 492.4 378.3 491 381C489.6 383.7 489.1 386.2 488.3 389C487.6 391.8 487 394.8 486.5 398C486 401.2 485.4 405.8 485.2 408C484.9 410.2 485 410.5 485 411L483 496.7L582.9 496.7L582.9 297.5Z" fill="#3b9286"/>
<path d="M519.7 297.5L516.5 338C516.1 338.8 515.1 341.2 514.4 343C513.7 344.8 513.1 346.7 512.4 349C511.7 351.3 510.9 354.3 510 357C509.1 359.7 508.2 362.3 507 365C505.8 367.7 504.2 370.3 503 373C501.8 375.7 500.4 378.3 499.5 381C498.6 383.7 497.8 386.3 497.3 389C496.8 391.7 496.7 395 496.6 397C496.5 399 496.5 400.3 496.5 401L494.5 496.7L582.9 496.7L582.9 297.5Z" fill="#409c85"/>
<path d="M526.2 297.5L522.5 338C522.1 338.7 520.8 340.3 520 342C519.2 343.7 518.4 345.8 517.6 348C516.8 350.2 515.9 352.5 515 355C514.1 357.5 512.9 360.3 512 363C511.1 365.7 510.2 368.3 509.5 371C508.8 373.7 508.3 376.2 508 379C507.7 381.8 507.7 385.7 507.6 388C507.5 390.3 507.5 392.2 507.5 393L505.5 496.7L582.9 496.7L582.9 297.5Z" fill="#47a582"/>
<path d="M540.2 297.5L533.5 338C532.8 339 530.3 341.8 529 344C527.7 346.2 526.6 348.5 525.6 351C524.6 353.5 523.8 356.3 523 359C522.2 361.7 521.5 364 521 367C520.5 370 520.1 373.7 519.8 377C519.5 380.3 519.3 384.9 519.2 387C519.1 389.1 519.2 389.1 519.2 389.5L517.2 496.7L582.9 496.7L582.9 297.5Z" fill="#4eae7e"/>
<path d="M582.9 335.6L544 341.6C543.7 341.8 542.8 342.3 542 343C541.2 343.7 540 344.7 539 346C538 347.3 536.9 349.2 536 351C535.1 352.8 534.3 354.7 533.6 357C532.9 359.3 532.1 362 531.6 365C531.1 368 530.7 371.5 530.4 375C530.1 378.5 530.1 383.7 530 386C529.9 388.3 530 388.5 530 389L528 496.7L582.9 496.7Z" fill="#59b778"/>
<path d="M582.9 353L544 359C543.6 360.3 542.2 364.2 541.6 367C541 369.8 540.8 373 540.6 376C540.4 379 540.4 382.9 540.4 385C540.4 387.1 540.4 387.9 540.4 388.5L538.4 496.7L582.9 496.7Z" fill="#66c070"/>
</g>
<g fill="none" stroke="#0a1418" stroke-width="1.12" stroke-linejoin="round">
<path d="M304.2 338.1C303 338.9 298.7 341.1 296.9 342.8C295.2 344.4 294.6 345.8 293.8 347.9C293.1 350.1 292.9 351.4 292.5 355.7C292.2 360 292 366.5 291.8 373.8C291.5 381.2 291.4 392.4 291.2 399.7C291.1 407 291 414 291 417.8C290.9 421.6 291 421.7 291 422.5" stroke-dasharray="18.3 3.4 25.6 3.4 25.6 3.4 59.7"/>
<path d="M331.6 338.1C330.4 339 325.9 341.6 324.1 343.3C322.3 344.9 321.6 345.9 320.8 347.9C319.9 350 319.6 351.4 319.2 355.7C318.8 360 318.6 366.5 318.4 373.8C318.2 381.2 318.2 391.5 318.2 399.7C318.1 407.9 317.9 417.9 317.9 423C317.9 428 317.9 428.8 317.9 430" stroke-dasharray="18.3 3.4 25.6 3.4 25.6 3.4 67.5"/>
<path d="M364.8 338.6C362.7 339.7 355.7 343.1 352.6 344.8C349.5 346.6 347.6 347.4 346.1 349.2C344.6 351 344.1 352.5 343.5 355.7C342.9 358.9 342.7 361.3 342.5 368.6C342.3 376 342.3 390.2 342.2 399.7C342.1 409.2 342 418.3 342 425.6C341.9 432.8 342 440.2 342 443.2" stroke-dasharray="18.3 3.4 25.6 3.4 25.6 3.4 25.6 3.4 57.4"/>
<path d="M395 338C394.2 338.4 392.2 339.8 390 340.6C387.8 341.4 384.3 342.1 382 343C379.7 343.9 377.7 344.7 376 346C374.3 347.3 373.3 349.2 372 351C370.7 352.8 369.1 354.1 368.1 357C367.2 359.9 366.7 361.5 366.3 368.6C365.9 375.8 365.7 388.9 365.5 399.7C365.3 410.5 365.3 425.1 365.3 433.3C365.2 441.6 365.3 446.7 365.3 449.4" stroke-dasharray="18.3 3.4 25.6 3.4 25.6 3.4 25.6 3.4 68.2"/>
<path d="M425 338C423.2 338.6 417.5 340.4 414 341.4C410.5 342.4 407.2 342.9 404 344C400.8 345.1 397.5 346.3 395 348C392.5 349.7 390.5 351.8 389 354C387.5 356.2 386.6 357.5 386 361C385.4 364.5 385.4 368.5 385.2 375C385 381.5 385.1 391.6 385 400C384.9 408.4 384.8 418.2 384.8 425.6C384.7 432.9 384.5 441.1 384.5 444.2" stroke-dasharray="18.3 3.4 25.6 3.4 25.6 3.4 25.6 3.4 72.5"/>
<path d="M453 338C450.8 338.7 443.8 341 440 342C436.2 343 433 343.2 430 344C427 344.8 424.7 345.8 422 347C419.3 348.2 416.2 349.3 414 351C411.8 352.7 410.3 354.7 409 357C407.7 359.3 407 362 406.4 365C405.8 368 405.7 369.2 405.6 375C405.5 380.8 405.8 392 405.6 400C405.4 408 404.7 417.1 404.4 423C404.2 428.9 404.2 433.1 404.2 435.2" stroke-dasharray="18.3 3.4 25.6 3.4 25.6 3.4 25.6 3.4 69.2"/>
<path d="M488.4 338C487 338.5 483.1 340.3 480 341C476.9 341.7 473.3 341.9 470 342.2C466.7 342.5 463.5 342.7 460 343C456.5 343.3 452.7 343.3 449 344C445.3 344.7 441.2 346.2 438 347.4C434.8 348.6 432 349.6 430 351C428 352.4 427 354 426 356C425 358 424.4 359.8 424 363C423.6 366.2 423.7 368.8 423.6 375C423.5 381.2 423.7 392.4 423.6 400C423.5 407.6 423 415.6 422.8 420.4C422.6 425.2 422.6 427.3 422.5 428.7" stroke-dasharray="18.3 3.4 25.6 3.4 25.6 3.4 25.6 3.4 81.2"/>
<path d="M500.4 338C500 338.3 499.2 339.2 498 340C496.8 340.8 495 342 493 343C491 344 488.3 345.4 486 346C483.7 346.6 481.7 346.6 479 346.6C476.3 346.6 473.2 346.1 470 346C466.8 345.9 462.7 345.6 460 346C457.3 346.4 456.2 347.6 454 348.6C451.8 349.6 448.8 350.6 447 352C445.2 353.4 444 355.2 443 357C442 358.8 441.6 360 441.2 363C440.8 366 440.7 368.8 440.6 375C440.5 381.2 440.5 391.7 440.4 400C440.3 408.3 440 420.7 439.9 424.8" stroke-dasharray="18.3 3.4 25.6 3.4 25.6 3.4 25.6 3.4 72.9"/>
<path d="M505.4 338C505 338.7 503.9 340.5 503 342C502.1 343.5 501.3 345.3 500 347C498.7 348.7 497 350.7 495 352C493 353.3 490.5 354.5 488 355C485.5 355.5 482.7 355.3 480 355C477.3 354.7 474.7 353.2 472 353C469.3 352.8 466 353.3 464 354C462 354.7 460.9 355.7 460 357C459.1 358.3 458.8 359 458.4 362C458 365 457.8 368.7 457.6 375C457.4 381.3 457.5 393.7 457.4 400C457.3 406.3 456.9 408.9 456.7 412.6C456.6 416.3 456.5 420.6 456.5 422.2" stroke-dasharray="17 6 23 6 23 6 23 6 60.4"/>
<path d="M510.5 338C510.1 338.8 508.8 341.2 508 343C507.2 344.8 506.4 347 505.6 349C504.8 351 503.9 353 503 355C502.1 357 501.2 359 500 361C498.8 363 497.7 365.2 496 367C494.3 368.8 492.3 370.3 490 372C487.7 373.7 484.2 375.3 482 377C479.8 378.7 478.1 380.3 477 382C475.9 383.7 475.9 384 475.6 387C475.3 390 475.4 395.5 475 400C474.6 404.5 473.6 410.8 473.3 414C473 417.2 473.1 418.2 473 419" stroke-dasharray="17 6 23 6 23 6 63.3"/>
<path d="M513.5 338C513.1 339 511.9 341.8 511 344C510.1 346.2 509.3 348.5 508.4 351C507.5 353.5 506.7 356.3 505.6 359C504.5 361.7 503.4 364.7 502 367C500.6 369.3 498.8 370.7 497 373C495.2 375.3 492.4 378.3 491 381C489.6 383.7 489.1 386.2 488.3 389C487.6 391.8 487 394.8 486.5 398C486 401.2 485.4 405.8 485.2 408C484.9 410.2 485 410.5 485 411" stroke-dasharray="17 6 23 6 77.8"/>
<path d="M516.5 338C516.1 338.8 515.1 341.2 514.4 343C513.7 344.8 513.1 346.7 512.4 349C511.7 351.3 510.9 354.3 510 357C509.1 359.7 508.2 362.3 507 365C505.8 367.7 504.2 370.3 503 373C501.8 375.7 500.4 378.3 499.5 381C498.6 383.7 497.8 386.3 497.3 389C496.8 391.7 496.7 395 496.6 397C496.5 399 496.5 400.3 496.5 401" stroke-dasharray="17 6 23 6 64.7"/>
<path d="M522.5 338C522.1 338.7 520.8 340.3 520 342C519.2 343.7 518.4 345.8 517.6 348C516.8 350.2 515.9 352.5 515 355C514.1 357.5 512.9 360.3 512 363C511.1 365.7 510.2 368.3 509.5 371C508.8 373.7 508.3 376.2 508 379C507.7 381.8 507.7 385.7 507.6 388C507.5 390.3 507.5 392.2 507.5 393" stroke-dasharray="17 6 23 6 55.7"/>
<path d="M533.5 338C532.8 339 530.3 341.8 529 344C527.7 346.2 526.6 348.5 525.6 351C524.6 353.5 523.8 356.3 523 359C522.2 361.7 521.5 364 521 367C520.5 370 520.1 373.7 519.8 377C519.5 380.3 519.3 384.9 519.2 387C519.1 389.1 519.2 389.1 519.2 389.5" stroke-dasharray="17 6 81.6"/>
<path d="M544 341.6C543.7 341.8 542.8 342.3 542 343C541.2 343.7 540 344.7 539 346C538 347.3 536.9 349.2 536 351C535.1 352.8 534.3 354.7 533.6 357C532.9 359.3 532.1 362 531.6 365C531.1 368 530.7 371.5 530.4 375C530.1 378.5 530.1 383.7 530 386C529.9 388.3 530 388.5 530 389" stroke-dasharray="17 6 78.3"/>
<path d="M544 359C543.6 360.3 542.2 364.2 541.6 367C541 369.8 540.8 373 540.6 376C540.4 379 540.4 382.9 540.4 385C540.4 387.1 540.4 387.9 540.4 388.5" stroke-dasharray="17 6 56.9"/>
</g>
<g font-family="'Liberation Sans', sans-serif" font-size="4.9" font-weight="bold" fill="#0a1418" text-anchor="middle"><text transform="translate(292.8 353.1) rotate(-84.6)" y="1.7">2</text><text transform="translate(291.6 382) rotate(-88.8)" y="1.7">2</text><text transform="translate(291.1 411) rotate(-89.2)" y="1.7">2</text><text transform="translate(319.5 352.8) rotate(-82.6)" y="1.7">3</text><text transform="translate(318.3 381.8) rotate(-89.4)" y="1.7">3</text><text transform="translate(318 410.8) rotate(-89.3)" y="1.7">3</text><text transform="translate(347.2 348.1) rotate(-43.1)" y="1.7">4</text><text transform="translate(342.4 376) rotate(-89.4)" y="1.7">4</text><text transform="translate(342.2 405) rotate(-89.4)" y="1.7">4</text><text transform="translate(342 434) rotate(-90)" y="1.7">4</text><text transform="translate(376.6 345.6) rotate(-36.4)" y="1.7">5</text><text transform="translate(366.2 371.5) rotate(-87.7)" y="1.7">5</text><text transform="translate(365.5 400.4) rotate(-89.3)" y="1.7">5</text><text transform="translate(365.3 429.4) rotate(-89.7)" y="1.7">5</text><text transform="translate(405.8 343.4) rotate(-16.4)" y="1.7">6</text><text transform="translate(385.8 362) rotate(-83)" y="1.7">6</text><text transform="translate(385 391) rotate(-89.7)" y="1.7">6</text><text transform="translate(384.8 420) rotate(-89.4)" y="1.7">6</text><text transform="translate(433.7 343.2) rotate(-10.9)" y="1.7">7</text><text transform="translate(409.1 356.8) rotate(-61.9)" y="1.7">7</text><text transform="translate(405.6 385.3) rotate(-90.3)" y="1.7">7</text><text transform="translate(404.9 414.3) rotate(-86.7)" y="1.7">7</text><text transform="translate(469 342.3) rotate(-4.9)" y="1.7">8</text><text transform="translate(440.5 346.5) rotate(-19.5)" y="1.7">8</text><text transform="translate(423.7 366.8) rotate(-87.8)" y="1.7">8</text><text transform="translate(423.6 395.8) rotate(-89.6)" y="1.7">8</text><text transform="translate(482.6 346.5) rotate(-4.3)" y="1.7">9</text><text transform="translate(454.2 348.5) rotate(-25.4)" y="1.7">9</text><text transform="translate(440.7 371.2) rotate(-88.6)" y="1.7">9</text><text transform="translate(440.4 400.2) rotate(-89.1)" y="1.7">9</text><text transform="translate(492.9 353.2) rotate(-26.9)" y="1.7">10</text><text transform="translate(464.6 353.8) rotate(-16.2)" y="1.7">10</text><text transform="translate(457.5 379.9) rotate(-89.5)" y="1.7">10</text><text transform="translate(457 408.9) rotate(-86.4)" y="1.7">10</text><text transform="translate(502.4 356.3) rotate(-64.7)" y="1.7">11</text><text transform="translate(482.6 376.5) rotate(-35)" y="1.7">11</text><text transform="translate(474.7 402.8) rotate(-83.5)" y="1.7">11</text><text transform="translate(506.5 356.7) rotate(-70.1)" y="1.7">12</text><text transform="translate(491 380.9) rotate(-61.1)" y="1.7">12</text><text transform="translate(510 356.9) rotate(-71.8)" y="1.7">13</text><text transform="translate(498.7 383.5) rotate(-73)" y="1.7">13</text><text transform="translate(514.5 356.3) rotate(-69.2)" y="1.7">14</text><text transform="translate(507.7 384.3) rotate(-88.2)" y="1.7">14</text><text transform="translate(524.1 355.4) rotate(-72.7)" y="1.7">15</text><text transform="translate(533.3 358) rotate(-73.5)" y="1.7">16</text><text transform="translate(540.5 378.6) rotate(-88.4)" y="1.7">17</text></g>
</g>
<path d="M287.4 427.8L288 427L290.8 424.2L294.3 420.7L297.7 418.2L301.1 417L303.9 416.8L306.8 418.5L309.6 421.9L312.5 425.9L315.3 428.7L318.2 432.1L321 435L323.9 437.3L327.3 439.5L330.7 441L334.1 441.8L337.5 442.4L340.5 443.8L342.7 445.9L344.9 446.4L347.6 445L350.4 446.4L353.1 448.1L356.4 448.6L359.6 449.2L362.4 449.2L364.5 450.8L366.7 453L368.9 455.2L370.5 454.6L372.7 453L374.9 452.4L377.1 454.1L378.7 452.4L380.9 450.3L383.6 449.7L386.4 448.6L389.1 447.5L392.4 447L395.6 446.1L397.8 444.4L399.6 442.3L402.4 439.2L405.5 436L408.7 433.8L412.5 432.8L416.4 431.8L420.2 430.9L424 430L427.8 428.7L431.6 427.7L435.5 426.4L438.6 424.5L440.8 423.6L443.1 425.2L445.6 426.7L448.8 427.1L452 427.7L454.5 427.8L457.1 426.4L460.3 424.3L464.9 422.6L469.8 420.7L474.7 418.3L479.6 415.8L484.5 411.7L488.6 406.8L492.7 401.9L496.8 398.1L500.9 395.3L505 393.2L509.1 390.9L513.2 389.3L517.3 388.3L522.2 387.7L527.1 387.7L532 387.5L536.9 387.2L540.2 386.3L542.9 385.5L542.9 456.7L287.4 456.7Z" fill="#bfab74"/>
<path d="M92.5 212V456.8" stroke="#ee2420" stroke-width="1.2" stroke-dasharray="3.7 2.75" stroke-dashoffset="-1" fill="none"/>
<path d="M246.3 212V456.8" stroke="#ee2420" stroke-width="1.2" stroke-dasharray="3.7 2.75" stroke-dashoffset="-1" fill="none"/>
<path d="M352.5 212V456.8" stroke="#ee2420" stroke-width="1.2" stroke-dasharray="3.7 2.75" stroke-dashoffset="-1" fill="none"/>
<path d="M506.3 212V456.8" stroke="#ee2420" stroke-width="1.2" stroke-dasharray="3.7 2.75" stroke-dashoffset="-1" fill="none"/>
<path d="M27.4 303L28 302.2L30.8 299.4L34.3 295.9L37.7 293.4L41.1 292.2L43.9 292L46.8 293.7L49.6 297.1L52.5 301.1L55.3 303.9L58.2 307.3L61 310.2L63.9 312.5L67.3 314.7L70.7 316.2L74.1 317L77.5 317.6L80.5 319L82.7 321.1L84.9 321.6L87.6 320.2L90.4 321.6L93.1 323.3L96.4 323.8L99.6 324.4L102.4 324.4L104.5 326L106.7 328.2L108.9 330.4L110.5 329.8L112.7 328.2L114.9 327.6L117.1 329.3L118.7 327.6L120.9 325.5L123.6 324.9L126.4 323.8L129.1 322.7L132.4 322.2L135.6 321.3L137.8 319.6L139.6 317.5L142.4 314.4L145.5 311.2L148.7 309L152.5 308L156.4 307L160.2 306.1L164 305.2L167.8 303.9L171.6 302.9L175.5 301.6L178.6 299.7L180.8 298.8L183.1 300.4L185.6 301.9L188.8 302.3L192 302.9L194.5 303L197.1 301.6L200.3 299.5L204.9 297.8L209.8 295.9L214.7 293.5L219.6 291L224.5 286.9L228.6 282L232.7 277.1L236.8 273.3L240.9 270.5L245 268.4L249.1 266.1L253.2 264.5L257.3 263.5L262.2 262.9L267.1 262.9L272 262.7L276.9 262.4L280.2 261.5L282.9 260.7" fill="none" stroke="#fff" stroke-width="2.3" stroke-linejoin="round" stroke-linecap="butt"/>
<path d="M27.4 212.4H282.9" stroke="#c8c8c8" stroke-width="0.7" fill="none"/>
<path d="M27.4 212.4V331.9H282.9" stroke="#555" stroke-width="0.6" fill="none"/>
<path d="M51.1 331.9v-2.5M51.1 212.4v2.5M74.7 331.9v-2.5M74.7 212.4v2.5M98.4 331.9v-2.5M98.4 212.4v2.5M122 331.9v-2.5M122 212.4v2.5M145.7 331.9v-2.5M145.7 212.4v2.5M169.4 331.9v-2.5M169.4 212.4v2.5M193 331.9v-2.5M193 212.4v2.5M216.7 331.9v-2.5M216.7 212.4v2.5M240.3 331.9v-2.5M240.3 212.4v2.5M264 331.9v-2.5M264 212.4v2.5M27.4 242.3h2.5M282.9 242.3h-2.5M27.4 272.1h2.5M282.9 272.1h-2.5M27.4 302h2.5M282.9 302h-2.5" stroke="#9a9a9a" stroke-width="0.5" fill="none"/>
<rect x="223.3" y="296.2" width="6.8" height="29.4" fill="url(#cb)"/>
<text x="231.6" y="303.6" font-size="9.6" font-weight="bold" fill="#000">25</text>
<text x="231.6" y="327.2" font-size="9.6" font-weight="bold" fill="#000">0</text>
<text x="51.4" y="326" font-size="16.4" font-weight="bold" fill="#000" text-anchor="middle">b</text>
<text x="162" y="326.2" font-size="10.5" font-weight="bold" fill="#000" text-anchor="middle">Run 2</text>
<path d="M287.4 303L288 302.2L290.8 299.4L294.3 295.9L297.7 293.4L301.1 292.2L303.9 292L306.8 293.7L309.6 297.1L312.5 301.1L315.3 303.9L318.2 307.3L321 310.2L323.9 312.5L327.3 314.7L330.7 316.2L334.1 317L337.5 317.6L340.5 319L342.7 321.1L344.9 321.6L347.6 320.2L350.4 321.6L353.1 323.3L356.4 323.8L359.6 324.4L362.4 324.4L364.5 326L366.7 328.2L368.9 330.4L370.5 329.8L372.7 328.2L374.9 327.6L377.1 329.3L378.7 327.6L380.9 325.5L383.6 324.9L386.4 323.8L389.1 322.7L392.4 322.2L395.6 321.3L397.8 319.6L399.6 317.5L402.4 314.4L405.5 311.2L408.7 309L412.5 308L416.4 307L420.2 306.1L424 305.2L427.8 303.9L431.6 302.9L435.5 301.6L438.6 299.7L440.8 298.8L443.1 300.4L445.6 301.9L448.8 302.3L452 302.9L454.5 303L457.1 301.6L460.3 299.5L464.9 297.8L469.8 295.9L474.7 293.5L479.6 291L484.5 286.9L488.6 282L492.7 277.1L496.8 273.3L500.9 270.5L505 268.4L509.1 266.1L513.2 264.5L517.3 263.5L522.2 262.9L527.1 262.9L532 262.7L536.9 262.4L540.2 261.5L542.9 260.7" fill="none" stroke="#fff" stroke-width="2.3" stroke-linejoin="round" stroke-linecap="butt"/>
<path d="M287.4 212.4H542.9" stroke="#c8c8c8" stroke-width="0.7" fill="none"/>
<path d="M287.4 212.4V331.9H542.9" stroke="#555" stroke-width="0.6" fill="none"/>
<path d="M311.1 331.9v-2.5M311.1 212.4v2.5M334.7 331.9v-2.5M334.7 212.4v2.5M358.4 331.9v-2.5M358.4 212.4v2.5M382 331.9v-2.5M382 212.4v2.5M405.7 331.9v-2.5M405.7 212.4v2.5M429.4 331.9v-2.5M429.4 212.4v2.5M453 331.9v-2.5M453 212.4v2.5M476.7 331.9v-2.5M476.7 212.4v2.5M500.3 331.9v-2.5M500.3 212.4v2.5M524 331.9v-2.5M524 212.4v2.5M287.4 242.3h2.5M542.9 242.3h-2.5M287.4 272.1h2.5M542.9 272.1h-2.5M287.4 302h2.5M542.9 302h-2.5" stroke="#9a9a9a" stroke-width="0.5" fill="none"/>
<rect x="483.3" y="296.2" width="6.8" height="29.4" fill="url(#cb)"/>
<text x="491.6" y="303.6" font-size="9.6" font-weight="bold" fill="#000">25</text>
<text x="491.6" y="327.2" font-size="9.6" font-weight="bold" fill="#000">0</text>
<text x="309.4" y="326" font-size="16.4" font-weight="bold" fill="#000" text-anchor="middle">c</text>
<text x="422" y="326.2" font-size="10.5" font-weight="bold" fill="#000" text-anchor="middle">Run 2</text>
<path d="M27.4 427.8L28 427L30.8 424.2L34.3 420.7L37.7 418.2L41.1 417L43.9 416.8L46.8 418.5L49.6 421.9L52.5 425.9L55.3 428.7L58.2 432.1L61 435L63.9 437.3L67.3 439.5L70.7 441L74.1 441.8L77.5 442.4L80.5 443.8L82.7 445.9L84.9 446.4L87.6 445L90.4 446.4L93.1 448.1L96.4 448.6L99.6 449.2L102.4 449.2L104.5 450.8L106.7 453L108.9 455.2L110.5 454.6L112.7 453L114.9 452.4L117.1 454.1L118.7 452.4L120.9 450.3L123.6 449.7L126.4 448.6L129.1 447.5L132.4 447L135.6 446.1L137.8 444.4L139.6 442.3L142.4 439.2L145.5 436L148.7 433.8L152.5 432.8L156.4 431.8L160.2 430.9L164 430L167.8 428.7L171.6 427.7L175.5 426.4L178.6 424.5L180.8 423.6L183.1 425.2L185.6 426.7L188.8 427.1L192 427.7L194.5 427.8L197.1 426.4L200.3 424.3L204.9 422.6L209.8 420.7L214.7 418.3L219.6 415.8L224.5 411.7L228.6 406.8L232.7 401.9L236.8 398.1L240.9 395.3L245 393.2L249.1 390.9L253.2 389.3L257.3 388.3L262.2 387.7L267.1 387.7L272 387.5L276.9 387.2L280.2 386.3L282.9 385.5" fill="none" stroke="#fff" stroke-width="2.3" stroke-linejoin="round" stroke-linecap="butt"/>
<path d="M27.4 337.5H282.9" stroke="#c8c8c8" stroke-width="0.7" fill="none"/>
<path d="M27.4 337.5V456.7H282.9" stroke="#555" stroke-width="0.6" fill="none"/>
<path d="M51.1 456.7v-2.5M51.1 337.5v2.5M74.7 456.7v-2.5M74.7 337.5v2.5M98.4 456.7v-2.5M98.4 337.5v2.5M122 456.7v-2.5M122 337.5v2.5M145.7 456.7v-2.5M145.7 337.5v2.5M169.4 456.7v-2.5M169.4 337.5v2.5M193 456.7v-2.5M193 337.5v2.5M216.7 456.7v-2.5M216.7 337.5v2.5M240.3 456.7v-2.5M240.3 337.5v2.5M264 456.7v-2.5M264 337.5v2.5M27.4 367.3h2.5M282.9 367.3h-2.5M27.4 397.1h2.5M282.9 397.1h-2.5M27.4 426.9h2.5M282.9 426.9h-2.5" stroke="#9a9a9a" stroke-width="0.5" fill="none"/>
<rect x="223.3" y="421" width="6.8" height="29.4" fill="url(#cb)"/>
<text x="231.6" y="428.4" font-size="9.6" font-weight="bold" fill="#000">25</text>
<text x="231.6" y="452" font-size="9.6" font-weight="bold" fill="#000">0</text>
<text x="49.5" y="451.8" font-size="16.4" font-weight="bold" fill="#000" text-anchor="middle">d</text>
<text x="162" y="451" font-size="10.5" font-weight="bold" fill="#000" text-anchor="middle">Run 1</text>
<path d="M287.4 427.8L288 427L290.8 424.2L294.3 420.7L297.7 418.2L301.1 417L303.9 416.8L306.8 418.5L309.6 421.9L312.5 425.9L315.3 428.7L318.2 432.1L321 435L323.9 437.3L327.3 439.5L330.7 441L334.1 441.8L337.5 442.4L340.5 443.8L342.7 445.9L344.9 446.4L347.6 445L350.4 446.4L353.1 448.1L356.4 448.6L359.6 449.2L362.4 449.2L364.5 450.8L366.7 453L368.9 455.2L370.5 454.6L372.7 453L374.9 452.4L377.1 454.1L378.7 452.4L380.9 450.3L383.6 449.7L386.4 448.6L389.1 447.5L392.4 447L395.6 446.1L397.8 444.4L399.6 442.3L402.4 439.2L405.5 436L408.7 433.8L412.5 432.8L416.4 431.8L420.2 430.9L424 430L427.8 428.7L431.6 427.7L435.5 426.4L438.6 424.5L440.8 423.6L443.1 425.2L445.6 426.7L448.8 427.1L452 427.7L454.5 427.8L457.1 426.4L460.3 424.3L464.9 422.6L469.8 420.7L474.7 418.3L479.6 415.8L484.5 411.7L488.6 406.8L492.7 401.9L496.8 398.1L500.9 395.3L505 393.2L509.1 390.9L513.2 389.3L517.3 388.3L522.2 387.7L527.1 387.7L532 387.5L536.9 387.2L540.2 386.3L542.9 385.5" fill="none" stroke="#fff" stroke-width="2.3" stroke-linejoin="round" stroke-linecap="butt"/>
<path d="M287.4 337.5H542.9" stroke="#c8c8c8" stroke-width="0.7" fill="none"/>
<path d="M287.4 337.5V456.7H542.9" stroke="#555" stroke-width="0.6" fill="none"/>
<path d="M311.1 456.7v-2.5M311.1 337.5v2.5M334.7 456.7v-2.5M334.7 337.5v2.5M358.4 456.7v-2.5M358.4 337.5v2.5M382 456.7v-2.5M382 337.5v2.5M405.7 456.7v-2.5M405.7 337.5v2.5M429.4 456.7v-2.5M429.4 337.5v2.5M453 456.7v-2.5M453 337.5v2.5M476.7 456.7v-2.5M476.7 337.5v2.5M500.3 456.7v-2.5M500.3 337.5v2.5M524 456.7v-2.5M524 337.5v2.5M287.4 367.3h2.5M542.9 367.3h-2.5M287.4 397.1h2.5M542.9 397.1h-2.5M287.4 426.9h2.5M542.9 426.9h-2.5" stroke="#9a9a9a" stroke-width="0.5" fill="none"/>
<rect x="483.3" y="421" width="6.8" height="29.4" fill="url(#cb)"/>
<text x="491.6" y="428.4" font-size="9.6" font-weight="bold" fill="#000">25</text>
<text x="491.6" y="452" font-size="9.6" font-weight="bold" fill="#000">0</text>
<text x="308.5" y="451.8" font-size="16.4" font-weight="bold" fill="#000" text-anchor="middle">e</text>
<text x="422" y="451" font-size="10.5" font-weight="bold" fill="#000" text-anchor="middle">Run 1</text>
<text x="25.2" y="215.1" font-size="7.5" font-weight="bold" fill="#111" text-anchor="end">0</text>
<text x="25.2" y="245" font-size="7.5" font-weight="bold" fill="#111" text-anchor="end">−5</text>
<text x="25.2" y="274.8" font-size="7.5" font-weight="bold" fill="#111" text-anchor="end">−10</text>
<text x="25.2" y="304.7" font-size="7.5" font-weight="bold" fill="#111" text-anchor="end">−15</text>
<text x="25.2" y="334.6" font-size="7.5" font-weight="bold" fill="#111" text-anchor="end">−20</text>
<text transform="translate(10.8 263.2) rotate(-90)" font-size="11.1" font-weight="bold" fill="#000" text-anchor="middle">Depth (m)</text>
<text x="25.2" y="340.2" font-size="7.5" font-weight="bold" fill="#111" text-anchor="end">0</text>
<text x="25.2" y="370" font-size="7.5" font-weight="bold" fill="#111" text-anchor="end">−5</text>
<text x="25.2" y="399.8" font-size="7.5" font-weight="bold" fill="#111" text-anchor="end">−10</text>
<text x="25.2" y="429.6" font-size="7.5" font-weight="bold" fill="#111" text-anchor="end">−15</text>
<text x="25.2" y="459.4" font-size="7.5" font-weight="bold" fill="#111" text-anchor="end">−20</text>
<text transform="translate(10.8 388.3) rotate(-90)" font-size="11.1" font-weight="bold" fill="#000" text-anchor="middle">Depth (m)</text>
<text x="26.7" y="466.2" font-size="7.6" font-weight="bold" fill="#111" text-anchor="middle">0</text>
<text x="50.9" y="466.2" font-size="7.6" font-weight="bold" fill="#111" text-anchor="middle">2</text>
<text x="74.5" y="466.2" font-size="7.6" font-weight="bold" fill="#111" text-anchor="middle">4</text>
<text x="98.2" y="466.2" font-size="7.6" font-weight="bold" fill="#111" text-anchor="middle">6</text>
<text x="121.8" y="466.2" font-size="7.6" font-weight="bold" fill="#111" text-anchor="middle">8</text>
<text x="145.5" y="466.2" font-size="7.6" font-weight="bold" fill="#111" text-anchor="middle">10</text>
<text x="169.2" y="466.2" font-size="7.6" font-weight="bold" fill="#111" text-anchor="middle">12</text>
<text x="192.8" y="466.2" font-size="7.6" font-weight="bold" fill="#111" text-anchor="middle">14</text>
<text x="216.5" y="466.2" font-size="7.6" font-weight="bold" fill="#111" text-anchor="middle">16</text>
<text x="240.1" y="466.2" font-size="7.6" font-weight="bold" fill="#111" text-anchor="middle">18</text>
<text x="263.8" y="466.2" font-size="7.6" font-weight="bold" fill="#111" text-anchor="middle">20</text>
<text x="160.5" y="476.6" font-size="14" font-weight="bold" fill="#000" text-anchor="middle">Distance (km)</text>
<text x="286.7" y="466.2" font-size="7.6" font-weight="bold" fill="#111" text-anchor="middle">0</text>
<text x="310.9" y="466.2" font-size="7.6" font-weight="bold" fill="#111" text-anchor="middle">2</text>
<text x="334.5" y="466.2" font-size="7.6" font-weight="bold" fill="#111" text-anchor="middle">4</text>
<text x="358.2" y="466.2" font-size="7.6" font-weight="bold" fill="#111" text-anchor="middle">6</text>
<text x="381.8" y="466.2" font-size="7.6" font-weight="bold" fill="#111" text-anchor="middle">8</text>
<text x="405.5" y="466.2" font-size="7.6" font-weight="bold" fill="#111" text-anchor="middle">10</text>
<text x="429.2" y="466.2" font-size="7.6" font-weight="bold" fill="#111" text-anchor="middle">12</text>
<text x="452.8" y="466.2" font-size="7.6" font-weight="bold" fill="#111" text-anchor="middle">14</text>
<text x="476.5" y="466.2" font-size="7.6" font-weight="bold" fill="#111" text-anchor="middle">16</text>
<text x="500.1" y="466.2" font-size="7.6" font-weight="bold" fill="#111" text-anchor="middle">18</text>
<text x="523.8" y="466.2" font-size="7.6" font-weight="bold" fill="#111" text-anchor="middle">20</text>
<text x="420.5" y="476.6" font-size="14" font-weight="bold" fill="#000" text-anchor="middle">Distance (km)</text>
<path d="M87.4 204.2h10.2l-5.1 8.8z" fill="#ee2420"/>
<text transform="translate(103.8 210.2) scale(0.86 1)" font-size="14.4" fill="#ee2420" text-anchor="middle">I</text>
<path d="M241.2 204.2h10.2l-5.1 8.8z" fill="#ee2420"/>
<text transform="translate(234.4 210.2) scale(0.86 1)" font-size="14.4" fill="#ee2420" text-anchor="middle">II</text>
<path d="M347.4 204.2h10.2l-5.1 8.8z" fill="#ee2420"/>
<text transform="translate(363.8 210.2) scale(0.86 1)" font-size="14.4" fill="#ee2420" text-anchor="middle">I</text>
<path d="M501.2 204.2h10.2l-5.1 8.8z" fill="#ee2420"/>
<text transform="translate(494.4 210.2) scale(0.86 1)" font-size="14.4" fill="#ee2420" text-anchor="middle">II</text>
</svg>
</body></html>
